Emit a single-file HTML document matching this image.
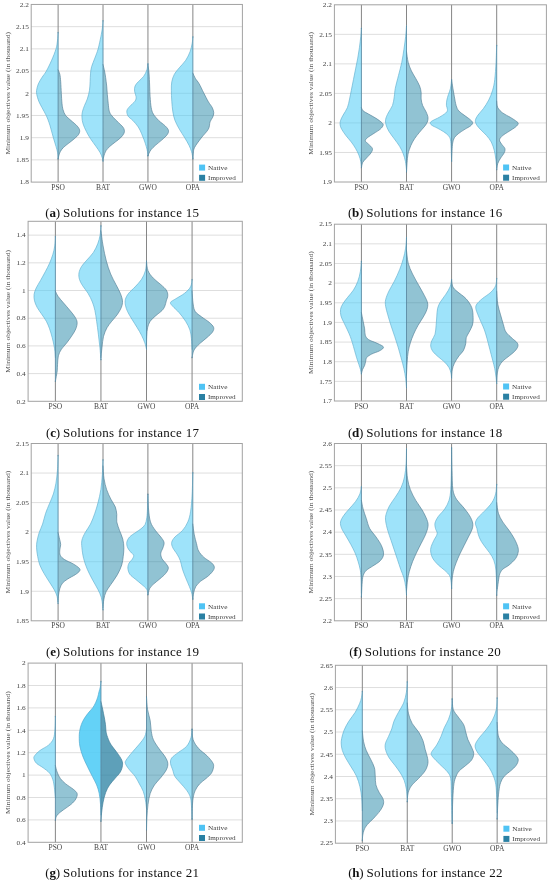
<!DOCTYPE html>
<html lang="en"><head><meta charset="utf-8"><title>Violin plots</title>
<style>
html,body{margin:0;padding:0;background:#fff;}
body{width:550px;height:883px;overflow:hidden;}
svg text{font-family:"Liberation Serif", "DejaVu Serif", serif;}
</style></head><body>
<svg width="550" height="883" viewBox="0 0 550 883" style="display:block">
<rect width="550" height="883" fill="#fff"/>
<g id="panel-a">
<line x1="31.20" x2="242.40" y1="26.66" y2="26.66" stroke="#dedede" stroke-width="1"/>
<line x1="31.20" x2="242.40" y1="48.86" y2="48.86" stroke="#dedede" stroke-width="1"/>
<line x1="31.20" x2="242.40" y1="71.07" y2="71.07" stroke="#dedede" stroke-width="1"/>
<line x1="31.20" x2="242.40" y1="93.28" y2="93.28" stroke="#dedede" stroke-width="1"/>
<line x1="31.20" x2="242.40" y1="115.48" y2="115.48" stroke="#dedede" stroke-width="1"/>
<line x1="31.20" x2="242.40" y1="137.69" y2="137.69" stroke="#dedede" stroke-width="1"/>
<line x1="31.20" x2="242.40" y1="159.89" y2="159.89" stroke="#dedede" stroke-width="1"/>
<path d="M58.11,4.45V33.28M58.11,158.23V182.10" stroke="#868686" stroke-width="1" fill="none"/>
<path d="M103.03,4.45V21.44M103.03,160.38V182.10" stroke="#868686" stroke-width="1" fill="none"/>
<path d="M147.95,4.45V64.48M147.95,155.00V182.10" stroke="#868686" stroke-width="1" fill="none"/>
<path d="M192.87,4.45V37.58M192.87,158.23V182.10" stroke="#868686" stroke-width="1" fill="none"/>
<path d="M58.11,32.28C58.00,33.71 57.82,38.09 57.46,40.88C57.10,43.68 56.92,45.83 55.96,49.06C54.99,52.29 53.27,56.56 51.65,60.25C50.04,63.94 47.89,68.35 46.27,71.22C44.66,74.09 43.30,75.35 41.97,77.46C40.64,79.58 39.21,81.77 38.31,83.92C37.41,86.07 36.84,88.58 36.59,90.37C36.34,92.17 36.45,92.88 36.80,94.68C37.16,96.47 37.88,98.98 38.74,101.13C39.60,103.28 40.71,105.18 41.97,107.59C43.22,109.99 45.09,113.04 46.27,115.55C47.46,118.06 48.28,120.39 49.07,122.65C49.86,124.91 50.29,126.59 51.01,129.11C51.72,131.62 52.55,134.84 53.37,137.71C54.20,140.58 55.24,143.81 55.96,146.32C56.67,148.83 57.32,150.80 57.68,152.77C58.04,154.75 58.04,157.26 58.11,158.15" fill="rgba(79,204,246,0.55)" stroke="#62aecd" stroke-width="0.65" stroke-linejoin="round" stroke-linecap="round"/>
<path d="M58.11,69.93C58.39,70.65 59.40,72.26 59.83,74.24C60.26,76.21 60.44,78.57 60.69,81.77C60.94,84.96 61.12,89.80 61.33,93.39C61.55,96.97 61.69,100.56 61.98,103.28C62.27,106.01 62.45,107.70 63.06,109.74C63.67,111.78 64.31,113.76 65.64,115.55C66.96,117.34 69.12,118.78 71.02,120.50C72.92,122.22 75.61,124.26 77.04,125.88C78.48,127.49 79.37,128.75 79.62,130.18C79.88,131.62 79.45,133.05 78.55,134.48C77.65,135.92 75.86,137.35 74.25,138.79C72.63,140.22 70.66,141.66 68.87,143.09C67.07,144.53 64.92,145.96 63.49,147.40C62.05,148.83 61.05,150.26 60.26,151.70C59.47,153.13 59.11,154.75 58.75,156.00C58.39,157.26 58.21,158.69 58.11,159.23" fill="rgba(44,140,170,0.52)" stroke="#527f96" stroke-width="0.65" stroke-linejoin="round" stroke-linecap="round"/>
<line x1="58.11" x2="58.11" y1="32.28" y2="159.23" stroke="#5a8aa3" stroke-width="0.9"/>
<path d="M103.03,20.44C102.92,21.70 102.74,25.28 102.38,27.97C102.02,30.66 101.59,33.07 100.88,36.58C100.16,40.09 99.08,45.47 98.08,49.06C97.08,52.65 95.93,55.16 94.85,58.10C93.78,61.04 92.34,64.19 91.62,66.70C90.91,69.21 90.80,70.65 90.55,73.16C90.30,75.67 90.30,78.90 90.12,81.77C89.94,84.64 89.94,87.50 89.47,90.37C89.01,93.24 88.15,96.47 87.32,98.98C86.50,101.49 85.35,103.28 84.52,105.44C83.70,107.59 82.80,109.92 82.37,111.89C81.94,113.86 81.83,115.30 81.94,117.27C82.05,119.24 82.30,121.39 83.02,123.73C83.74,126.06 84.99,128.75 86.25,131.26C87.50,133.77 88.94,136.28 90.55,138.79C92.16,141.30 94.31,143.99 95.93,146.32C97.54,148.65 99.16,150.80 100.23,152.77C101.31,154.75 101.92,156.72 102.38,158.15C102.85,159.59 102.92,160.84 103.03,161.38" fill="rgba(79,204,246,0.55)" stroke="#62aecd" stroke-width="0.65" stroke-linejoin="round" stroke-linecap="round"/>
<path d="M103.03,64.55C103.28,65.63 104.10,68.86 104.54,71.01C104.97,73.16 105.25,74.95 105.61,77.46C105.97,79.97 106.40,83.20 106.69,86.07C106.97,88.94 107.08,91.81 107.33,94.68C107.58,97.55 107.83,100.42 108.19,103.28C108.55,106.15 108.66,109.56 109.48,111.89C110.31,114.22 111.64,115.48 113.14,117.27C114.65,119.06 116.91,121.04 118.52,122.65C120.14,124.26 121.86,125.70 122.83,126.95C123.79,128.21 124.15,129.11 124.33,130.18C124.51,131.26 124.51,132.15 123.90,133.41C123.29,134.66 122.11,136.28 120.67,137.71C119.24,139.15 117.09,140.58 115.29,142.02C113.50,143.45 111.46,144.88 109.91,146.32C108.37,147.75 107.05,149.01 106.04,150.62C105.04,152.24 104.39,154.39 103.89,156.00C103.39,157.62 103.17,159.59 103.03,160.31" fill="rgba(44,140,170,0.52)" stroke="#527f96" stroke-width="0.65" stroke-linejoin="round" stroke-linecap="round"/>
<line x1="103.03" x2="103.03" y1="20.44" y2="161.38" stroke="#5a8aa3" stroke-width="0.9"/>
<path d="M147.95,63.48C147.77,64.55 147.59,67.78 146.88,69.93C146.16,72.08 145.08,74.41 143.65,76.39C142.21,78.36 139.70,80.15 138.27,81.77C136.83,83.38 135.65,84.46 135.04,86.07C134.43,87.68 134.43,89.66 134.61,91.45C134.79,93.24 136.04,95.22 136.12,96.83C136.19,98.44 136.12,99.52 135.04,101.13C133.96,102.75 131.02,104.90 129.66,106.51C128.30,108.13 127.12,109.20 126.86,110.82C126.61,112.43 127.15,114.58 128.16,116.19C129.16,117.81 131.20,118.71 132.89,120.50C134.57,122.29 136.83,124.80 138.27,126.95C139.70,129.11 140.53,131.26 141.50,133.41C142.46,135.56 143.29,137.71 144.08,139.86C144.87,142.02 145.66,144.35 146.23,146.32C146.80,148.29 147.23,150.08 147.52,151.70C147.81,153.31 147.88,155.29 147.95,156.00" fill="rgba(79,204,246,0.55)" stroke="#62aecd" stroke-width="0.65" stroke-linejoin="round" stroke-linecap="round"/>
<path d="M147.95,64.55C148.13,65.99 148.74,69.57 149.03,73.16C149.31,76.75 149.49,82.13 149.67,86.07C149.85,90.02 149.85,93.24 150.10,96.83C150.35,100.42 150.64,104.72 151.18,107.59C151.72,110.46 152.08,111.89 153.33,114.04C154.59,116.19 156.74,118.53 158.71,120.50C160.68,122.47 163.55,124.26 165.17,125.88C166.78,127.49 168.03,128.75 168.39,130.18C168.75,131.62 168.39,132.87 167.32,134.48C166.24,136.10 163.91,138.07 161.94,139.86C159.97,141.66 157.28,143.63 155.48,145.24C153.69,146.86 152.25,148.22 151.18,149.55C150.10,150.87 149.57,152.13 149.03,153.20C148.49,154.28 148.13,155.54 147.95,156.00" fill="rgba(44,140,170,0.52)" stroke="#527f96" stroke-width="0.65" stroke-linejoin="round" stroke-linecap="round"/>
<line x1="147.95" x2="147.95" y1="63.48" y2="156.00" stroke="#5a8aa3" stroke-width="0.9"/>
<path d="M192.87,36.58C192.77,37.66 192.69,40.52 192.23,43.04C191.76,45.55 191.15,48.77 190.08,51.64C189.00,54.51 187.57,57.56 185.77,60.25C183.98,62.94 181.22,65.45 179.32,67.78C177.42,70.11 175.62,71.90 174.37,74.24C173.11,76.57 172.29,79.08 171.79,81.77C171.28,84.46 171.36,87.15 171.36,90.37C171.36,93.60 171.54,97.55 171.79,101.13C172.04,104.72 172.32,108.66 172.86,111.89C173.40,115.12 173.94,117.63 175.01,120.50C176.09,123.37 177.70,126.24 179.32,129.11C180.93,131.97 183.08,135.02 184.70,137.71C186.31,140.40 187.85,142.91 189.00,145.24C190.15,147.57 190.94,149.55 191.58,151.70C192.23,153.85 192.66,157.08 192.87,158.15" fill="rgba(79,204,246,0.55)" stroke="#62aecd" stroke-width="0.65" stroke-linejoin="round" stroke-linecap="round"/>
<path d="M192.87,73.16C193.30,74.06 194.42,76.78 195.46,78.54C196.50,80.30 197.75,81.34 199.11,83.70C200.48,86.07 202.09,89.73 203.63,92.74C205.17,95.75 206.93,99.30 208.37,101.78C209.80,104.25 211.34,105.76 212.24,107.59C213.14,109.42 213.67,111.14 213.75,112.75C213.82,114.37 213.28,115.76 212.67,117.27C212.06,118.78 210.80,119.82 210.09,121.79C209.37,123.76 209.87,126.38 208.37,129.11C206.86,131.83 203.35,135.09 201.05,138.14C198.76,141.19 195.89,144.88 194.60,147.40C193.30,149.91 193.59,151.23 193.30,153.20C193.02,155.18 192.95,158.23 192.87,159.23" fill="rgba(44,140,170,0.52)" stroke="#527f96" stroke-width="0.65" stroke-linejoin="round" stroke-linecap="round"/>
<line x1="192.87" x2="192.87" y1="36.58" y2="159.23" stroke="#5a8aa3" stroke-width="0.9"/>
<rect x="31.20" y="4.45" width="211.20" height="177.65" fill="none" stroke="#a2a2a2" stroke-width="1"/>
<text transform="translate(28.80,6.70) scale(1.08,1)" text-anchor="end" font-size="6.8" fill="#444">2.2</text>
<text transform="translate(28.80,28.91) scale(1.08,1)" text-anchor="end" font-size="6.8" fill="#444">2.15</text>
<text transform="translate(28.80,51.11) scale(1.08,1)" text-anchor="end" font-size="6.8" fill="#444">2.1</text>
<text transform="translate(28.80,73.32) scale(1.08,1)" text-anchor="end" font-size="6.8" fill="#444">2.05</text>
<text transform="translate(28.80,95.53) scale(1.08,1)" text-anchor="end" font-size="6.8" fill="#444">2</text>
<text transform="translate(28.80,117.73) scale(1.08,1)" text-anchor="end" font-size="6.8" fill="#444">1.95</text>
<text transform="translate(28.80,139.94) scale(1.08,1)" text-anchor="end" font-size="6.8" fill="#444">1.9</text>
<text transform="translate(28.80,162.14) scale(1.08,1)" text-anchor="end" font-size="6.8" fill="#444">1.85</text>
<text transform="translate(28.80,184.35) scale(1.08,1)" text-anchor="end" font-size="6.8" fill="#444">1.8</text>
<text transform="translate(58.11,189.70) scale(1.04,1)" text-anchor="middle" font-size="7.2" fill="#444">PSO</text>
<text transform="translate(103.03,189.70) scale(1.04,1)" text-anchor="middle" font-size="7.2" fill="#444">BAT</text>
<text transform="translate(147.95,189.70) scale(1.04,1)" text-anchor="middle" font-size="7.2" fill="#444">GWO</text>
<text transform="translate(192.87,189.70) scale(1.04,1)" text-anchor="middle" font-size="7.2" fill="#444">OPA</text>
<text transform="translate(9.70,93.27) rotate(-90) scale(1.08,1)" text-anchor="middle" font-size="7" fill="#555">Minimum objectives value (in thousand)</text>
<rect x="199.10" y="164.60" width="6" height="6" fill="#4fc3f4"/>
<rect x="199.10" y="174.80" width="6" height="6" fill="#2a80a3"/>
<text transform="translate(208.00,169.80) scale(1.08,1)" font-size="6.8" fill="#444">Native</text>
<text transform="translate(208.00,180.00) scale(1.05,1)" font-size="6.8" fill="#444">Improved</text>
<text x="122.30" y="217.20" text-anchor="middle" font-size="13" letter-spacing="0.265" fill="#111"><tspan letter-spacing="-0.2">(<tspan font-weight="bold">a</tspan>) </tspan>Solutions for instance 15</text>
</g>
<g id="panel-b">
<line x1="334.40" x2="546.40" y1="34.33" y2="34.33" stroke="#dedede" stroke-width="1"/>
<line x1="334.40" x2="546.40" y1="63.87" y2="63.87" stroke="#dedede" stroke-width="1"/>
<line x1="334.40" x2="546.40" y1="93.40" y2="93.40" stroke="#dedede" stroke-width="1"/>
<line x1="334.40" x2="546.40" y1="122.93" y2="122.93" stroke="#dedede" stroke-width="1"/>
<line x1="334.40" x2="546.40" y1="152.47" y2="152.47" stroke="#dedede" stroke-width="1"/>
<path d="M361.41,4.80V28.97M361.41,166.84V182.00" stroke="#868686" stroke-width="1" fill="none"/>
<path d="M406.50,4.80V26.82M406.50,171.14V182.00" stroke="#868686" stroke-width="1" fill="none"/>
<path d="M451.59,4.80V80.61M451.59,160.38V182.00" stroke="#868686" stroke-width="1" fill="none"/>
<path d="M496.69,4.80V46.19M496.69,168.99V182.00" stroke="#868686" stroke-width="1" fill="none"/>
<path d="M361.41,27.97C361.30,29.41 361.09,33.35 360.76,36.58C360.44,39.81 359.97,43.75 359.47,47.34C358.97,50.92 358.40,54.51 357.75,58.10C357.11,61.68 356.32,65.27 355.60,68.86C354.88,72.44 354.16,76.03 353.45,79.61C352.73,83.20 351.94,87.15 351.30,90.37C350.65,93.60 350.22,96.11 349.57,98.98C348.93,101.85 348.50,104.90 347.42,107.59C346.35,110.28 344.27,112.97 343.12,115.12C341.97,117.27 341.04,118.88 340.54,120.50C340.03,122.11 339.93,123.37 340.11,124.80C340.29,126.24 340.64,127.31 341.61,129.11C342.58,130.90 344.30,133.41 345.92,135.56C347.53,137.71 349.68,139.86 351.30,142.02C352.91,144.17 354.34,146.32 355.60,148.47C356.85,150.62 357.97,152.77 358.83,154.93C359.69,157.08 360.33,159.41 360.76,161.38C361.19,163.35 361.30,165.86 361.41,166.76" fill="rgba(79,204,246,0.55)" stroke="#62aecd" stroke-width="0.65" stroke-linejoin="round" stroke-linecap="round"/>
<path d="M361.41,107.59C361.70,108.13 361.95,109.74 363.13,110.82C364.31,111.89 366.36,112.79 368.51,114.04C370.66,115.30 373.82,116.91 376.04,118.35C378.26,119.78 380.67,121.50 381.85,122.65C383.03,123.80 383.39,124.16 383.14,125.23C382.89,126.31 381.89,127.74 380.34,129.11C378.80,130.47 376.04,131.97 373.89,133.41C371.74,134.84 368.87,136.46 367.43,137.71C366.00,138.97 365.10,139.86 365.28,140.94C365.46,142.02 367.33,142.91 368.51,144.17C369.69,145.42 371.95,147.04 372.38,148.47C372.81,149.91 372.10,151.16 371.09,152.77C370.09,154.39 367.76,156.54 366.36,158.15C364.96,159.77 363.52,160.84 362.70,162.46C361.88,164.07 361.62,166.94 361.41,167.84" fill="rgba(44,140,170,0.52)" stroke="#527f96" stroke-width="0.65" stroke-linejoin="round" stroke-linecap="round"/>
<line x1="361.41" x2="361.41" y1="27.97" y2="167.84" stroke="#5a8aa3" stroke-width="0.9"/>
<path d="M406.50,25.82C406.36,27.61 406.07,32.63 405.64,36.58C405.21,40.52 404.56,45.19 403.92,49.49C403.27,53.79 402.66,58.10 401.77,62.40C400.87,66.70 399.62,71.01 398.54,75.31C397.46,79.61 396.03,84.64 395.31,88.22C394.59,91.81 394.70,93.96 394.24,96.83C393.77,99.70 393.52,102.75 392.51,105.44C391.51,108.13 389.36,110.64 388.21,112.97C387.06,115.30 385.99,117.45 385.63,119.42C385.27,121.39 385.52,122.83 386.06,124.80C386.60,126.77 387.49,128.93 388.86,131.26C390.22,133.59 392.44,136.28 394.24,138.79C396.03,141.30 398.11,143.81 399.62,146.32C401.12,148.83 402.31,151.34 403.27,153.85C404.24,156.36 404.89,158.69 405.43,161.38C405.96,164.07 406.32,168.55 406.50,169.99" fill="rgba(79,204,246,0.55)" stroke="#62aecd" stroke-width="0.65" stroke-linejoin="round" stroke-linecap="round"/>
<path d="M406.50,51.64C406.79,53.44 407.40,59.17 408.22,62.40C409.05,65.63 410.20,68.32 411.45,71.01C412.71,73.70 414.39,76.03 415.75,78.54C417.12,81.05 418.73,83.74 419.63,86.07C420.52,88.40 420.88,90.37 421.13,92.53C421.38,94.68 420.88,96.83 421.13,98.98C421.38,101.13 421.81,103.28 422.64,105.44C423.46,107.59 425.19,109.81 426.08,111.89C426.98,113.97 427.95,115.94 428.02,117.92C428.09,119.89 427.48,121.86 426.51,123.73C425.54,125.59 423.82,127.13 422.21,129.11C420.60,131.08 418.44,133.41 416.83,135.56C415.22,137.71 413.78,139.68 412.53,142.02C411.27,144.35 410.12,147.04 409.30,149.55C408.47,152.06 408.04,153.31 407.58,157.08C407.11,160.84 406.68,169.63 406.50,172.14" fill="rgba(44,140,170,0.52)" stroke="#527f96" stroke-width="0.65" stroke-linejoin="round" stroke-linecap="round"/>
<line x1="406.50" x2="406.50" y1="25.82" y2="172.14" stroke="#5a8aa3" stroke-width="0.9"/>
<path d="M451.59,79.61C451.41,81.05 451.06,85.71 450.52,88.22C449.98,90.73 448.98,92.70 448.37,94.68C447.76,96.65 447.18,98.26 446.86,100.06C446.54,101.85 446.32,103.82 446.43,105.44C446.54,107.05 447.61,108.48 447.51,109.74C447.40,110.99 447.15,111.71 445.78,112.97C444.42,114.22 441.48,116.02 439.33,117.27C437.18,118.53 434.38,119.60 432.87,120.50C431.37,121.39 430.47,121.86 430.29,122.65C430.11,123.44 430.65,124.34 431.80,125.23C432.95,126.13 435.20,126.95 437.18,128.03C439.15,129.11 441.77,130.43 443.63,131.69C445.50,132.94 447.22,134.20 448.37,135.56C449.51,136.92 450.05,137.71 450.52,139.86C450.98,142.02 450.98,144.88 451.16,148.47C451.34,152.06 451.52,159.23 451.59,161.38" fill="rgba(79,204,246,0.55)" stroke="#62aecd" stroke-width="0.65" stroke-linejoin="round" stroke-linecap="round"/>
<path d="M451.59,79.61C451.81,81.05 452.42,85.35 452.88,88.22C453.35,91.09 453.85,93.96 454.39,96.83C454.93,99.70 455.40,103.10 456.11,105.44C456.83,107.77 457.37,109.20 458.69,110.82C460.02,112.43 462.21,113.68 464.07,115.12C465.94,116.55 468.45,118.17 469.88,119.42C471.32,120.68 472.57,121.57 472.68,122.65C472.79,123.73 471.78,124.80 470.53,125.88C469.27,126.95 467.12,127.85 465.15,129.11C463.18,130.36 460.49,131.97 458.69,133.41C456.90,134.84 455.40,136.10 454.39,137.71C453.39,139.33 453.06,140.94 452.67,143.09C452.27,145.24 452.20,147.57 452.02,150.62C451.84,153.67 451.67,159.59 451.59,161.38" fill="rgba(44,140,170,0.52)" stroke="#527f96" stroke-width="0.65" stroke-linejoin="round" stroke-linecap="round"/>
<line x1="451.59" x2="451.59" y1="79.61" y2="161.38" stroke="#5a8aa3" stroke-width="0.9"/>
<path d="M496.69,45.19C496.58,48.06 496.36,56.66 496.04,62.40C495.72,68.14 495.32,74.95 494.75,79.61C494.18,84.28 493.60,86.97 492.60,90.37C491.59,93.78 490.27,97.01 488.72,100.06C487.18,103.10 485.14,106.15 483.35,108.66C481.55,111.17 479.29,113.15 477.97,115.12C476.64,117.09 475.56,118.81 475.38,120.50C475.20,122.18 475.92,123.62 476.89,125.23C477.86,126.85 479.58,128.46 481.19,130.18C482.81,131.90 484.89,133.59 486.57,135.56C488.26,137.53 490.02,139.51 491.31,142.02C492.60,144.53 493.57,147.75 494.32,150.62C495.07,153.49 495.43,156.36 495.83,159.23C496.22,162.10 496.54,166.40 496.69,167.84" fill="rgba(79,204,246,0.55)" stroke="#62aecd" stroke-width="0.65" stroke-linejoin="round" stroke-linecap="round"/>
<path d="M496.69,101.13C496.87,102.21 496.76,105.62 497.76,107.59C498.77,109.56 500.63,111.35 502.71,112.97C504.79,114.58 507.91,115.84 510.24,117.27C512.57,118.71 515.37,120.50 516.70,121.57C518.02,122.65 518.38,122.83 518.20,123.73C518.02,124.62 517.13,125.70 515.62,126.95C514.12,128.21 511.32,129.82 509.17,131.26C507.01,132.69 504.32,134.13 502.71,135.56C501.10,137.00 499.66,138.43 499.48,139.86C499.30,141.30 500.74,142.73 501.64,144.17C502.53,145.60 504.43,147.04 504.86,148.47C505.29,149.91 504.93,151.16 504.22,152.77C503.50,154.39 501.64,156.36 500.56,158.15C499.48,159.95 498.41,161.56 497.76,163.53C497.12,165.51 496.87,168.91 496.69,169.99" fill="rgba(44,140,170,0.52)" stroke="#527f96" stroke-width="0.65" stroke-linejoin="round" stroke-linecap="round"/>
<line x1="496.69" x2="496.69" y1="45.19" y2="169.99" stroke="#5a8aa3" stroke-width="0.9"/>
<rect x="334.40" y="4.80" width="212.00" height="177.20" fill="none" stroke="#a2a2a2" stroke-width="1"/>
<text transform="translate(332.00,7.05) scale(1.08,1)" text-anchor="end" font-size="6.8" fill="#444">2.2</text>
<text transform="translate(332.00,36.58) scale(1.08,1)" text-anchor="end" font-size="6.8" fill="#444">2.15</text>
<text transform="translate(332.00,66.12) scale(1.08,1)" text-anchor="end" font-size="6.8" fill="#444">2.1</text>
<text transform="translate(332.00,95.65) scale(1.08,1)" text-anchor="end" font-size="6.8" fill="#444">2.05</text>
<text transform="translate(332.00,125.18) scale(1.08,1)" text-anchor="end" font-size="6.8" fill="#444">2</text>
<text transform="translate(332.00,154.72) scale(1.08,1)" text-anchor="end" font-size="6.8" fill="#444">1.95</text>
<text transform="translate(332.00,184.25) scale(1.08,1)" text-anchor="end" font-size="6.8" fill="#444">1.9</text>
<text transform="translate(361.41,189.60) scale(1.04,1)" text-anchor="middle" font-size="7.2" fill="#444">PSO</text>
<text transform="translate(406.50,189.60) scale(1.04,1)" text-anchor="middle" font-size="7.2" fill="#444">BAT</text>
<text transform="translate(451.59,189.60) scale(1.04,1)" text-anchor="middle" font-size="7.2" fill="#444">GWO</text>
<text transform="translate(496.69,189.60) scale(1.04,1)" text-anchor="middle" font-size="7.2" fill="#444">OPA</text>
<text transform="translate(313.10,93.40) rotate(-90) scale(1.08,1)" text-anchor="middle" font-size="7" fill="#555">Minimum objectives value (in thousand)</text>
<rect x="503.10" y="164.50" width="6" height="6" fill="#4fc3f4"/>
<rect x="503.10" y="174.70" width="6" height="6" fill="#2a80a3"/>
<text transform="translate(512.00,169.70) scale(1.08,1)" font-size="6.8" fill="#444">Native</text>
<text transform="translate(512.00,179.90) scale(1.05,1)" font-size="6.8" fill="#444">Improved</text>
<text x="425.20" y="217.20" text-anchor="middle" font-size="13" letter-spacing="0.265" fill="#111"><tspan letter-spacing="-0.2">(<tspan font-weight="bold">b</tspan>) </tspan>Solutions for instance 16</text>
</g>
<g id="panel-c">
<line x1="28.10" x2="242.30" y1="235.15" y2="235.15" stroke="#dedede" stroke-width="1"/>
<line x1="28.10" x2="242.30" y1="262.84" y2="262.84" stroke="#dedede" stroke-width="1"/>
<line x1="28.10" x2="242.30" y1="290.53" y2="290.53" stroke="#dedede" stroke-width="1"/>
<line x1="28.10" x2="242.30" y1="318.22" y2="318.22" stroke="#dedede" stroke-width="1"/>
<line x1="28.10" x2="242.30" y1="345.92" y2="345.92" stroke="#dedede" stroke-width="1"/>
<line x1="28.10" x2="242.30" y1="373.61" y2="373.61" stroke="#dedede" stroke-width="1"/>
<path d="M55.39,221.30V237.29M55.39,380.53V401.30" stroke="#868686" stroke-width="1" fill="none"/>
<path d="M100.95,221.30V226.53M100.95,359.02V401.30" stroke="#868686" stroke-width="1" fill="none"/>
<path d="M146.51,221.30V262.04M146.51,348.26V401.30" stroke="#868686" stroke-width="1" fill="none"/>
<path d="M192.07,221.30V280.33M192.07,356.86V401.30" stroke="#868686" stroke-width="1" fill="none"/>
<path d="M55.39,236.29C55.28,237.90 55.17,242.92 54.74,245.97C54.31,249.02 53.67,251.71 52.81,254.58C51.95,257.45 50.83,260.32 49.58,263.19C48.32,266.06 46.78,268.92 45.28,271.79C43.77,274.66 42.05,277.71 40.54,280.40C39.04,283.09 37.31,285.60 36.24,287.93C35.16,290.26 34.37,292.24 34.09,294.39C33.80,296.54 34.01,298.69 34.52,300.84C35.02,302.99 35.95,305.15 37.10,307.30C38.25,309.45 39.86,311.42 41.40,313.75C42.94,316.08 44.99,318.77 46.35,321.28C47.71,323.79 48.61,326.13 49.58,328.82C50.55,331.51 51.44,334.73 52.16,337.42C52.88,340.11 53.42,342.62 53.88,344.95C54.35,347.28 54.71,349.33 54.96,351.41C55.21,353.49 55.32,356.43 55.39,357.43" fill="rgba(79,204,246,0.55)" stroke="#62aecd" stroke-width="0.65" stroke-linejoin="round" stroke-linecap="round"/>
<path d="M55.39,291.16C55.86,292.06 56.82,294.57 58.19,296.54C59.55,298.51 61.59,300.66 63.57,302.99C65.54,305.33 68.12,308.19 70.02,310.53C71.92,312.86 73.79,315.01 74.97,316.98C76.15,318.95 76.98,320.39 77.12,322.36C77.27,324.33 76.66,326.66 75.83,328.82C75.01,330.97 73.68,332.94 72.17,335.27C70.67,337.60 68.59,340.47 66.79,342.80C65.00,345.13 62.81,347.11 61.41,349.26C60.02,351.41 59.05,353.20 58.40,355.71C57.76,358.22 57.74,361.81 57.54,364.32C57.34,366.83 57.43,368.73 57.22,370.77C57.00,372.82 56.55,374.79 56.25,376.58C55.94,378.38 55.53,380.71 55.39,381.53" fill="rgba(44,140,170,0.52)" stroke="#527f96" stroke-width="0.65" stroke-linejoin="round" stroke-linecap="round"/>
<line x1="55.39" x2="55.39" y1="236.29" y2="381.53" stroke="#5a8aa3" stroke-width="0.9"/>
<path d="M100.95,225.53C100.81,227.14 100.63,232.17 100.09,235.21C99.55,238.26 98.83,240.95 97.72,243.82C96.61,246.69 95.21,249.74 93.42,252.43C91.63,255.12 88.94,257.63 86.96,259.96C84.99,262.29 82.91,264.26 81.58,266.41C80.26,268.57 79.36,270.72 79.00,272.87C78.64,275.02 78.82,277.17 79.43,279.33C80.04,281.48 81.22,283.45 82.66,285.78C84.09,288.11 86.43,290.62 88.04,293.31C89.65,296.00 91.19,299.05 92.34,301.92C93.49,304.79 94.21,307.30 94.92,310.53C95.64,313.75 96.07,317.34 96.65,321.28C97.22,325.23 97.83,329.89 98.37,334.19C98.91,338.50 99.44,342.80 99.87,347.11C100.30,351.41 100.77,357.86 100.95,360.02" fill="rgba(79,204,246,0.55)" stroke="#62aecd" stroke-width="0.65" stroke-linejoin="round" stroke-linecap="round"/>
<path d="M100.95,230.91C101.31,233.42 102.20,240.95 103.10,245.97C104.00,250.99 105.07,256.37 106.33,261.04C107.58,265.70 109.02,270.00 110.63,273.95C112.25,277.89 114.40,281.48 116.01,284.70C117.63,287.93 119.24,290.62 120.32,293.31C121.39,296.00 122.29,298.51 122.47,300.84C122.65,303.17 122.29,304.97 121.39,307.30C120.49,309.63 118.70,312.50 117.09,314.83C115.47,317.16 113.39,319.13 111.71,321.28C110.02,323.44 108.34,325.23 106.97,327.74C105.61,330.25 104.36,333.12 103.53,336.35C102.71,339.57 102.46,343.52 102.03,347.11C101.59,350.69 101.13,356.07 100.95,357.86" fill="rgba(44,140,170,0.52)" stroke="#527f96" stroke-width="0.65" stroke-linejoin="round" stroke-linecap="round"/>
<line x1="100.95" x2="100.95" y1="225.53" y2="360.02" stroke="#5a8aa3" stroke-width="0.9"/>
<path d="M146.51,261.04C146.33,262.65 146.26,267.67 145.43,270.72C144.61,273.77 143.28,276.64 141.56,279.33C139.84,282.01 137.26,284.53 135.11,286.86C132.95,289.19 130.26,291.23 128.65,293.31C127.04,295.39 125.96,297.36 125.42,299.34C124.88,301.31 125.06,303.10 125.42,305.15C125.78,307.19 126.50,309.27 127.57,311.60C128.65,313.93 130.26,316.44 131.88,319.13C133.49,321.82 135.64,325.05 137.26,327.74C138.87,330.43 140.31,332.76 141.56,335.27C142.82,337.78 143.96,340.47 144.79,342.80C145.61,345.13 146.22,348.18 146.51,349.26" fill="rgba(79,204,246,0.55)" stroke="#62aecd" stroke-width="0.65" stroke-linejoin="round" stroke-linecap="round"/>
<path d="M146.51,261.04C146.76,262.65 146.87,267.85 148.02,270.72C149.16,273.59 151.24,275.92 153.40,278.25C155.55,280.58 158.77,282.73 160.93,284.70C163.08,286.68 165.16,288.29 166.31,290.08C167.45,291.88 167.81,293.67 167.81,295.46C167.81,297.26 166.81,299.05 166.31,300.84C165.80,302.64 165.52,304.61 164.80,306.22C164.08,307.84 163.54,308.91 162.00,310.53C160.46,312.14 157.52,314.11 155.55,315.90C153.57,317.70 151.49,319.31 150.17,321.28C148.84,323.26 148.16,325.23 147.59,327.74C147.01,330.25 146.90,333.12 146.72,336.35C146.55,339.57 146.55,345.31 146.51,347.11" fill="rgba(44,140,170,0.52)" stroke="#527f96" stroke-width="0.65" stroke-linejoin="round" stroke-linecap="round"/>
<line x1="146.51" x2="146.51" y1="261.04" y2="349.26" stroke="#5a8aa3" stroke-width="0.9"/>
<path d="M192.07,279.33C191.82,280.58 191.82,284.53 190.56,286.86C189.31,289.19 186.98,291.34 184.54,293.31C182.10,295.28 178.26,297.18 175.93,298.69C173.60,300.20 171.09,301.09 170.55,302.35C170.01,303.60 171.27,304.50 172.70,306.22C174.14,307.94 177.01,310.17 179.16,312.68C181.31,315.19 183.82,318.42 185.61,321.28C187.41,324.15 188.95,327.02 189.92,329.89C190.89,332.76 191.07,335.27 191.42,338.50C191.78,341.73 191.96,347.46 192.07,349.26" fill="rgba(79,204,246,0.55)" stroke="#62aecd" stroke-width="0.65" stroke-linejoin="round" stroke-linecap="round"/>
<path d="M192.07,291.16C192.25,293.31 192.61,300.66 193.15,304.07C193.68,307.48 193.86,309.45 195.30,311.60C196.73,313.75 199.42,315.19 201.75,316.98C204.08,318.77 207.31,320.64 209.28,322.36C211.26,324.08 213.05,325.70 213.59,327.31C214.13,328.92 213.59,330.36 212.51,332.04C211.44,333.73 209.10,335.63 207.13,337.42C205.16,339.22 202.65,341.01 200.68,342.80C198.70,344.59 196.55,346.57 195.30,348.18C194.04,349.80 193.68,350.87 193.15,352.48C192.61,354.10 192.25,356.97 192.07,357.86" fill="rgba(44,140,170,0.52)" stroke="#527f96" stroke-width="0.65" stroke-linejoin="round" stroke-linecap="round"/>
<line x1="192.07" x2="192.07" y1="279.33" y2="357.86" stroke="#5a8aa3" stroke-width="0.9"/>
<rect x="28.10" y="221.30" width="214.20" height="180.00" fill="none" stroke="#a2a2a2" stroke-width="1"/>
<text transform="translate(25.70,237.40) scale(1.08,1)" text-anchor="end" font-size="6.8" fill="#444">1.4</text>
<text transform="translate(25.70,265.09) scale(1.08,1)" text-anchor="end" font-size="6.8" fill="#444">1.2</text>
<text transform="translate(25.70,292.78) scale(1.08,1)" text-anchor="end" font-size="6.8" fill="#444">1</text>
<text transform="translate(25.70,320.47) scale(1.08,1)" text-anchor="end" font-size="6.8" fill="#444">0.8</text>
<text transform="translate(25.70,348.17) scale(1.08,1)" text-anchor="end" font-size="6.8" fill="#444">0.6</text>
<text transform="translate(25.70,375.86) scale(1.08,1)" text-anchor="end" font-size="6.8" fill="#444">0.4</text>
<text transform="translate(25.70,403.55) scale(1.08,1)" text-anchor="end" font-size="6.8" fill="#444">0.2</text>
<text transform="translate(55.39,408.90) scale(1.04,1)" text-anchor="middle" font-size="7.2" fill="#444">PSO</text>
<text transform="translate(100.95,408.90) scale(1.04,1)" text-anchor="middle" font-size="7.2" fill="#444">BAT</text>
<text transform="translate(146.51,408.90) scale(1.04,1)" text-anchor="middle" font-size="7.2" fill="#444">GWO</text>
<text transform="translate(192.07,408.90) scale(1.04,1)" text-anchor="middle" font-size="7.2" fill="#444">OPA</text>
<text transform="translate(9.70,311.30) rotate(-90) scale(1.08,1)" text-anchor="middle" font-size="7" fill="#555">Minimum objectives value (in thousand)</text>
<rect x="199.00" y="383.80" width="6" height="6" fill="#4fc3f4"/>
<rect x="199.00" y="394.00" width="6" height="6" fill="#2a80a3"/>
<text transform="translate(207.90,389.00) scale(1.08,1)" font-size="6.8" fill="#444">Native</text>
<text transform="translate(207.90,399.20) scale(1.05,1)" font-size="6.8" fill="#444">Improved</text>
<text x="122.60" y="436.50" text-anchor="middle" font-size="13" letter-spacing="0.265" fill="#111"><tspan letter-spacing="-0.2">(<tspan font-weight="bold">c</tspan>) </tspan>Solutions for instance 17</text>
</g>
<g id="panel-d">
<line x1="334.40" x2="546.40" y1="243.84" y2="243.84" stroke="#dedede" stroke-width="1"/>
<line x1="334.40" x2="546.40" y1="263.49" y2="263.49" stroke="#dedede" stroke-width="1"/>
<line x1="334.40" x2="546.40" y1="283.13" y2="283.13" stroke="#dedede" stroke-width="1"/>
<line x1="334.40" x2="546.40" y1="302.78" y2="302.78" stroke="#dedede" stroke-width="1"/>
<line x1="334.40" x2="546.40" y1="322.42" y2="322.42" stroke="#dedede" stroke-width="1"/>
<line x1="334.40" x2="546.40" y1="342.07" y2="342.07" stroke="#dedede" stroke-width="1"/>
<line x1="334.40" x2="546.40" y1="361.71" y2="361.71" stroke="#dedede" stroke-width="1"/>
<line x1="334.40" x2="546.40" y1="381.36" y2="381.36" stroke="#dedede" stroke-width="1"/>
<path d="M361.41,224.20V262.04M361.41,373.00V401.00" stroke="#868686" stroke-width="1" fill="none"/>
<path d="M406.50,224.20V238.37M406.50,386.99V401.00" stroke="#868686" stroke-width="1" fill="none"/>
<path d="M451.59,224.20V280.33M451.59,377.31V401.00" stroke="#868686" stroke-width="1" fill="none"/>
<path d="M496.69,224.20V279.25M496.69,382.69V401.00" stroke="#868686" stroke-width="1" fill="none"/>
<path d="M361.41,261.04C361.23,262.83 360.94,268.39 360.33,271.79C359.72,275.20 358.90,278.43 357.75,281.48C356.60,284.53 355.17,287.39 353.45,290.08C351.73,292.77 349.22,295.28 347.42,297.61C345.63,299.95 343.84,302.10 342.69,304.07C341.54,306.04 340.82,307.48 340.54,309.45C340.25,311.42 340.43,313.75 340.97,315.90C341.51,318.06 342.69,320.03 343.76,322.36C344.84,324.69 346.35,327.56 347.42,329.89C348.50,332.22 349.39,334.19 350.22,336.35C351.04,338.50 351.65,340.47 352.37,342.80C353.09,345.13 353.81,347.82 354.52,350.33C355.24,352.84 355.96,355.53 356.67,357.86C357.39,360.20 358.18,362.35 358.83,364.32C359.47,366.29 360.12,368.08 360.55,369.70C360.98,371.31 361.27,373.29 361.41,374.00" fill="rgba(79,204,246,0.55)" stroke="#62aecd" stroke-width="0.65" stroke-linejoin="round" stroke-linecap="round"/>
<path d="M361.41,312.68C361.70,314.11 362.59,318.59 363.13,321.28C363.67,323.97 364.28,326.48 364.64,328.82C365.00,331.15 364.64,333.48 365.28,335.27C365.93,337.06 366.72,338.32 368.51,339.57C370.30,340.83 373.71,341.73 376.04,342.80C378.37,343.88 381.31,345.13 382.50,346.03C383.68,346.93 383.68,347.36 383.14,348.18C382.60,349.01 381.17,350.01 379.27,350.98C377.37,351.95 373.82,352.92 371.74,353.99C369.66,355.07 367.79,356.25 366.79,357.43C365.78,358.62 366.07,359.76 365.71,361.09C365.35,362.42 365.17,363.96 364.64,365.40C364.10,366.83 363.02,368.26 362.48,369.70C361.95,371.13 361.59,373.29 361.41,374.00" fill="rgba(44,140,170,0.52)" stroke="#527f96" stroke-width="0.65" stroke-linejoin="round" stroke-linecap="round"/>
<line x1="361.41" x2="361.41" y1="261.04" y2="374.00" stroke="#5a8aa3" stroke-width="0.9"/>
<path d="M406.50,237.37C406.36,239.16 406.18,244.54 405.64,248.12C405.10,251.71 404.28,255.30 403.27,258.88C402.27,262.47 401.12,265.88 399.62,269.64C398.11,273.41 396.03,277.89 394.24,281.48C392.44,285.06 390.29,288.11 388.86,291.16C387.42,294.21 386.17,297.26 385.63,299.77C385.09,302.28 385.27,303.71 385.63,306.22C385.99,308.73 386.88,311.60 387.78,314.83C388.68,318.06 389.86,322.00 391.01,325.59C392.16,329.17 393.48,332.76 394.67,336.35C395.85,339.93 397.03,343.52 398.11,347.11C399.19,350.69 400.15,354.28 401.12,357.86C402.09,361.45 403.17,365.22 403.92,368.62C404.67,372.03 405.21,375.08 405.64,378.31C406.07,381.53 406.36,386.37 406.50,387.99" fill="rgba(79,204,246,0.55)" stroke="#62aecd" stroke-width="0.65" stroke-linejoin="round" stroke-linecap="round"/>
<path d="M406.50,250.28C406.79,252.43 407.22,259.24 408.22,263.19C409.23,267.13 410.73,270.18 412.53,273.95C414.32,277.71 417.01,282.19 418.98,285.78C420.95,289.37 422.93,292.59 424.36,295.46C425.80,298.33 427.16,300.66 427.59,302.99C428.02,305.33 427.66,307.12 426.94,309.45C426.23,311.78 424.79,314.29 423.28,316.98C421.78,319.67 419.52,322.72 417.91,325.59C416.29,328.46 414.86,331.33 413.60,334.19C412.35,337.06 411.27,339.93 410.37,342.80C409.48,345.67 408.76,348.18 408.22,351.41C407.68,354.64 407.43,358.22 407.15,362.17C406.86,366.11 406.61,372.93 406.50,375.08" fill="rgba(44,140,170,0.52)" stroke="#527f96" stroke-width="0.65" stroke-linejoin="round" stroke-linecap="round"/>
<line x1="406.50" x2="406.50" y1="237.37" y2="387.99" stroke="#5a8aa3" stroke-width="0.9"/>
<path d="M451.59,279.33C451.34,280.58 451.06,284.35 450.09,286.86C449.12,289.37 447.40,291.88 445.78,294.39C444.17,296.90 441.77,299.59 440.40,301.92C439.04,304.25 438.22,305.86 437.61,308.37C437.00,310.88 437.00,314.11 436.75,316.98C436.50,319.85 436.39,322.72 436.10,325.59C435.81,328.46 435.74,331.68 435.03,334.19C434.31,336.71 432.51,338.68 431.80,340.65C431.08,342.62 430.54,344.24 430.72,346.03C430.90,347.82 431.62,349.62 432.87,351.41C434.13,353.20 436.28,355.00 438.25,356.79C440.23,358.58 442.91,360.37 444.71,362.17C446.50,363.96 447.97,365.75 449.01,367.55C450.05,369.34 450.52,371.13 450.95,372.93C451.38,374.72 451.49,377.41 451.59,378.31" fill="rgba(79,204,246,0.55)" stroke="#62aecd" stroke-width="0.65" stroke-linejoin="round" stroke-linecap="round"/>
<path d="M451.59,279.97C451.81,281.12 451.99,284.96 452.88,286.86C453.78,288.76 454.79,289.40 456.97,291.37C459.16,293.35 463.54,295.97 466.01,298.69C468.48,301.42 470.64,304.57 471.82,307.73C473.00,310.88 473.00,314.76 473.11,317.63C473.22,320.50 473.15,322.50 472.47,324.94C471.78,327.38 470.06,330.14 469.02,332.26C467.98,334.37 466.76,335.81 466.23,337.64C465.69,339.47 466.26,341.08 465.80,343.23C465.33,345.38 464.58,348.43 463.43,350.55C462.28,352.66 460.42,353.81 458.91,355.93C457.40,358.04 455.50,360.91 454.39,363.24C453.28,365.57 452.71,367.58 452.24,369.91C451.77,372.24 451.70,376.01 451.59,377.23" fill="rgba(44,140,170,0.52)" stroke="#527f96" stroke-width="0.65" stroke-linejoin="round" stroke-linecap="round"/>
<line x1="451.59" x2="451.59" y1="279.33" y2="378.31" stroke="#5a8aa3" stroke-width="0.9"/>
<path d="M496.69,278.25C496.51,279.50 496.58,283.45 495.61,285.78C494.64,288.11 493.10,290.08 490.88,292.24C488.65,294.39 484.60,296.72 482.27,298.69C479.94,300.66 477.97,302.46 476.89,304.07C475.81,305.68 475.63,306.58 475.81,308.37C475.99,310.17 477.07,312.50 477.97,314.83C478.86,317.16 480.12,319.85 481.19,322.36C482.27,324.87 483.45,327.20 484.42,329.89C485.39,332.58 486.11,335.27 487.00,338.50C487.90,341.73 488.87,345.67 489.80,349.26C490.73,352.84 491.77,356.79 492.60,360.02C493.42,363.24 494.18,365.75 494.75,368.62C495.32,371.49 495.72,374.72 496.04,377.23C496.36,379.74 496.58,382.61 496.69,383.69" fill="rgba(79,204,246,0.55)" stroke="#62aecd" stroke-width="0.65" stroke-linejoin="round" stroke-linecap="round"/>
<path d="M496.69,291.16C496.87,293.31 497.12,300.13 497.76,304.07C498.41,308.02 499.63,311.42 500.56,314.83C501.49,318.24 502.46,321.64 503.36,324.51C504.25,327.38 504.43,329.71 505.94,332.04C507.44,334.37 510.53,336.71 512.39,338.50C514.26,340.29 516.23,341.44 517.13,342.80C518.02,344.16 518.20,345.24 517.77,346.67C517.34,348.11 516.16,349.72 514.55,351.41C512.93,353.09 510.06,355.17 508.09,356.79C506.12,358.40 504.22,359.48 502.71,361.09C501.20,362.71 499.95,364.50 499.05,366.47C498.16,368.44 497.73,370.42 497.33,372.93C496.94,375.44 496.79,380.10 496.69,381.53" fill="rgba(44,140,170,0.52)" stroke="#527f96" stroke-width="0.65" stroke-linejoin="round" stroke-linecap="round"/>
<line x1="496.69" x2="496.69" y1="278.25" y2="383.69" stroke="#5a8aa3" stroke-width="0.9"/>
<rect x="334.40" y="224.20" width="212.00" height="176.80" fill="none" stroke="#a2a2a2" stroke-width="1"/>
<text transform="translate(332.00,226.45) scale(1.08,1)" text-anchor="end" font-size="6.8" fill="#444">2.15</text>
<text transform="translate(332.00,246.09) scale(1.08,1)" text-anchor="end" font-size="6.8" fill="#444">2.1</text>
<text transform="translate(332.00,265.74) scale(1.08,1)" text-anchor="end" font-size="6.8" fill="#444">2.05</text>
<text transform="translate(332.00,285.38) scale(1.08,1)" text-anchor="end" font-size="6.8" fill="#444">2</text>
<text transform="translate(332.00,305.03) scale(1.08,1)" text-anchor="end" font-size="6.8" fill="#444">1.95</text>
<text transform="translate(332.00,324.67) scale(1.08,1)" text-anchor="end" font-size="6.8" fill="#444">1.9</text>
<text transform="translate(332.00,344.32) scale(1.08,1)" text-anchor="end" font-size="6.8" fill="#444">1.85</text>
<text transform="translate(332.00,363.96) scale(1.08,1)" text-anchor="end" font-size="6.8" fill="#444">1.8</text>
<text transform="translate(332.00,383.61) scale(1.08,1)" text-anchor="end" font-size="6.8" fill="#444">1.75</text>
<text transform="translate(332.00,403.25) scale(1.08,1)" text-anchor="end" font-size="6.8" fill="#444">1.7</text>
<text transform="translate(361.41,408.60) scale(1.04,1)" text-anchor="middle" font-size="7.2" fill="#444">PSO</text>
<text transform="translate(406.50,408.60) scale(1.04,1)" text-anchor="middle" font-size="7.2" fill="#444">BAT</text>
<text transform="translate(451.59,408.60) scale(1.04,1)" text-anchor="middle" font-size="7.2" fill="#444">GWO</text>
<text transform="translate(496.69,408.60) scale(1.04,1)" text-anchor="middle" font-size="7.2" fill="#444">OPA</text>
<text transform="translate(313.10,312.60) rotate(-90) scale(1.08,1)" text-anchor="middle" font-size="7" fill="#555">Minimum objectives value (in thousand)</text>
<rect x="503.10" y="383.50" width="6" height="6" fill="#4fc3f4"/>
<rect x="503.10" y="393.70" width="6" height="6" fill="#2a80a3"/>
<text transform="translate(512.00,388.70) scale(1.08,1)" font-size="6.8" fill="#444">Native</text>
<text transform="translate(512.00,398.90) scale(1.05,1)" font-size="6.8" fill="#444">Improved</text>
<text x="425.20" y="436.50" text-anchor="middle" font-size="13" letter-spacing="0.265" fill="#111"><tspan letter-spacing="-0.2">(<tspan font-weight="bold">d</tspan>) </tspan>Solutions for instance 18</text>
</g>
<g id="panel-e">
<line x1="31.20" x2="242.30" y1="473.05" y2="473.05" stroke="#dedede" stroke-width="1"/>
<line x1="31.20" x2="242.30" y1="502.60" y2="502.60" stroke="#dedede" stroke-width="1"/>
<line x1="31.20" x2="242.30" y1="532.15" y2="532.15" stroke="#dedede" stroke-width="1"/>
<line x1="31.20" x2="242.30" y1="561.70" y2="561.70" stroke="#dedede" stroke-width="1"/>
<line x1="31.20" x2="242.30" y1="591.25" y2="591.25" stroke="#dedede" stroke-width="1"/>
<path d="M58.09,443.50V456.21M58.09,602.69V620.80" stroke="#868686" stroke-width="1" fill="none"/>
<path d="M103.00,443.50V460.52M103.00,609.14V620.80" stroke="#868686" stroke-width="1" fill="none"/>
<path d="M147.90,443.50V494.95M147.90,594.08V620.80" stroke="#868686" stroke-width="1" fill="none"/>
<path d="M192.80,443.50V473.43M192.80,598.38V620.80" stroke="#868686" stroke-width="1" fill="none"/>
<path d="M58.09,455.21C57.99,457.72 57.81,465.61 57.45,470.28C57.09,474.94 56.62,479.24 55.94,483.19C55.26,487.13 54.44,490.54 53.36,493.95C52.28,497.35 50.78,500.40 49.49,503.63C48.20,506.86 46.76,509.90 45.61,513.31C44.47,516.72 43.68,520.84 42.60,524.07C41.53,527.30 40.09,529.81 39.16,532.68C38.23,535.55 37.44,538.77 37.01,541.28C36.58,543.79 36.47,545.23 36.58,547.74C36.68,550.25 37.11,553.48 37.65,556.35C38.19,559.22 38.73,562.08 39.80,564.95C40.88,567.82 42.49,570.69 44.11,573.56C45.72,576.43 47.80,579.48 49.49,582.17C51.17,584.86 52.97,587.37 54.22,589.70C55.48,592.03 56.37,593.82 57.02,596.15C57.66,598.49 57.91,602.43 58.09,603.69" fill="rgba(79,204,246,0.55)" stroke="#62aecd" stroke-width="0.65" stroke-linejoin="round" stroke-linecap="round"/>
<path d="M58.09,532.68C58.35,533.75 59.17,537.16 59.60,539.13C60.03,541.10 60.64,542.72 60.68,544.51C60.71,546.31 59.89,548.10 59.82,549.89C59.74,551.68 59.46,553.66 60.25,555.27C61.03,556.88 62.40,558.14 64.55,559.57C66.70,561.01 70.72,562.44 73.16,563.88C75.60,565.31 78.11,567.00 79.18,568.18C80.26,569.36 80.26,569.90 79.61,570.98C78.97,572.05 77.28,573.31 75.31,574.64C73.34,575.96 69.93,577.51 67.78,578.94C65.63,580.37 63.72,581.63 62.40,583.24C61.07,584.86 60.46,586.65 59.82,588.62C59.17,590.60 58.81,592.93 58.52,595.08C58.24,597.23 58.17,600.46 58.09,601.53" fill="rgba(44,140,170,0.52)" stroke="#527f96" stroke-width="0.65" stroke-linejoin="round" stroke-linecap="round"/>
<line x1="58.09" x2="58.09" y1="455.21" y2="603.69" stroke="#5a8aa3" stroke-width="0.9"/>
<path d="M103.00,459.52C102.89,462.03 102.71,469.56 102.35,474.58C101.99,479.60 101.56,484.98 100.84,489.64C100.13,494.30 99.05,498.61 98.05,502.55C97.04,506.50 96.07,509.73 94.82,513.31C93.56,516.90 92.13,520.84 90.51,524.07C88.90,527.30 86.57,529.99 85.14,532.68C83.70,535.37 82.45,537.70 81.91,540.21C81.37,542.72 81.62,544.69 81.91,547.74C82.19,550.79 82.73,554.91 83.63,558.50C84.53,562.08 85.78,565.67 87.29,569.26C88.79,572.84 90.87,576.61 92.67,580.02C94.46,583.42 96.61,586.83 98.05,589.70C99.48,592.57 100.52,594.72 101.27,597.23C102.03,599.74 102.28,602.61 102.56,604.76C102.85,606.91 102.92,609.24 103.00,610.14" fill="rgba(79,204,246,0.55)" stroke="#62aecd" stroke-width="0.65" stroke-linejoin="round" stroke-linecap="round"/>
<path d="M103.00,465.97C103.17,468.12 103.46,474.94 104.07,478.88C104.68,482.83 105.51,486.24 106.65,489.64C107.80,493.05 109.52,496.46 110.96,499.33C112.39,502.19 114.29,504.35 115.26,506.86C116.23,509.37 116.52,511.88 116.77,514.39C117.02,516.90 116.30,519.23 116.77,521.92C117.23,524.61 118.56,527.66 119.56,530.53C120.57,533.39 122.07,536.26 122.79,539.13C123.51,542.00 123.80,544.87 123.87,547.74C123.94,550.61 123.58,553.48 123.22,556.35C122.86,559.22 122.68,561.91 121.72,564.95C120.75,568.00 119.21,571.41 117.41,574.64C115.62,577.86 112.86,581.45 110.96,584.32C109.06,587.19 107.19,589.34 106.01,591.85C104.82,594.36 104.36,596.69 103.86,599.38C103.35,602.07 103.14,606.55 103.00,607.99" fill="rgba(44,140,170,0.52)" stroke="#527f96" stroke-width="0.65" stroke-linejoin="round" stroke-linecap="round"/>
<line x1="103.00" x2="103.00" y1="459.52" y2="610.14" stroke="#5a8aa3" stroke-width="0.9"/>
<path d="M147.90,495.67C147.82,497.89 147.65,505.35 147.47,509.01C147.29,512.67 147.21,515.03 146.82,517.61C146.43,520.20 146.07,522.64 145.10,524.50C144.13,526.37 142.52,527.51 141.01,528.80C139.50,530.10 137.96,530.88 136.06,532.25C134.16,533.61 131.15,535.30 129.61,536.98C128.06,538.67 127.13,540.57 126.81,542.36C126.49,544.15 127.02,546.13 127.67,547.74C128.32,549.35 129.68,550.75 130.68,552.04C131.69,553.33 133.48,554.23 133.69,555.49C133.91,556.74 132.76,558.28 131.97,559.57C131.18,560.87 129.64,561.80 128.96,563.23C128.28,564.67 127.74,566.35 127.88,568.18C128.03,570.01 128.57,572.38 129.82,574.21C131.08,576.04 133.41,577.43 135.42,579.16C137.42,580.88 140.01,582.88 141.87,584.53C143.74,586.18 145.60,587.48 146.61,589.05C147.61,590.63 147.68,593.18 147.90,594.00" fill="rgba(79,204,246,0.55)" stroke="#62aecd" stroke-width="0.65" stroke-linejoin="round" stroke-linecap="round"/>
<path d="M147.90,493.95C148.00,496.46 148.11,504.35 148.54,509.01C148.97,513.67 149.33,518.33 150.48,521.92C151.63,525.50 153.71,528.02 155.43,530.53C157.15,533.04 159.37,535.01 160.81,536.98C162.24,538.95 163.68,540.57 164.03,542.36C164.39,544.15 163.50,545.95 162.96,547.74C162.42,549.53 160.99,551.33 160.81,553.12C160.63,554.91 160.99,556.71 161.88,558.50C162.78,560.29 165.11,562.26 166.19,563.88C167.26,565.49 168.45,566.57 168.34,568.18C168.23,569.80 166.97,571.77 165.54,573.56C164.11,575.35 161.77,577.15 159.73,578.94C157.69,580.73 154.96,582.71 153.28,584.32C151.59,585.93 150.51,586.83 149.62,588.62C148.72,590.42 148.18,594.00 147.90,595.08" fill="rgba(44,140,170,0.52)" stroke="#527f96" stroke-width="0.65" stroke-linejoin="round" stroke-linecap="round"/>
<line x1="147.90" x2="147.90" y1="493.95" y2="595.08" stroke="#5a8aa3" stroke-width="0.9"/>
<path d="M192.80,472.43C192.69,476.01 192.51,487.49 192.15,493.95C191.79,500.40 191.36,506.50 190.65,511.16C189.93,515.82 189.21,518.69 187.85,521.92C186.49,525.15 184.62,528.02 182.47,530.53C180.32,533.04 176.73,535.01 174.94,536.98C173.14,538.95 172.07,540.57 171.71,542.36C171.35,544.15 171.89,545.77 172.79,547.74C173.68,549.71 175.83,552.04 177.09,554.19C178.34,556.35 179.42,558.14 180.32,560.65C181.21,563.16 181.57,566.39 182.47,569.26C183.37,572.13 184.55,575.00 185.70,577.86C186.84,580.73 188.35,583.96 189.35,586.47C190.36,588.98 191.15,590.77 191.72,592.93C192.29,595.08 192.62,598.31 192.80,599.38" fill="rgba(79,204,246,0.55)" stroke="#62aecd" stroke-width="0.65" stroke-linejoin="round" stroke-linecap="round"/>
<path d="M192.80,524.07C193.05,525.86 193.69,531.60 194.30,534.83C194.91,538.06 195.74,540.75 196.46,543.44C197.17,546.13 197.35,548.64 198.61,550.97C199.86,553.30 201.83,555.45 203.99,557.42C206.14,559.39 209.80,561.19 211.52,562.80C213.24,564.42 214.14,565.67 214.31,567.11C214.49,568.54 213.78,569.80 212.59,571.41C211.41,573.02 209.19,575.17 207.21,576.79C205.24,578.40 202.66,579.48 200.76,581.09C198.86,582.71 196.99,584.50 195.81,586.47C194.63,588.44 194.16,590.77 193.66,592.93C193.16,595.08 192.94,598.31 192.80,599.38" fill="rgba(44,140,170,0.52)" stroke="#527f96" stroke-width="0.65" stroke-linejoin="round" stroke-linecap="round"/>
<line x1="192.80" x2="192.80" y1="472.43" y2="599.38" stroke="#5a8aa3" stroke-width="0.9"/>
<rect x="31.20" y="443.50" width="211.10" height="177.30" fill="none" stroke="#a2a2a2" stroke-width="1"/>
<text transform="translate(28.80,445.75) scale(1.08,1)" text-anchor="end" font-size="6.8" fill="#444">2.15</text>
<text transform="translate(28.80,475.30) scale(1.08,1)" text-anchor="end" font-size="6.8" fill="#444">2.1</text>
<text transform="translate(28.80,504.85) scale(1.08,1)" text-anchor="end" font-size="6.8" fill="#444">2.05</text>
<text transform="translate(28.80,534.40) scale(1.08,1)" text-anchor="end" font-size="6.8" fill="#444">2</text>
<text transform="translate(28.80,563.95) scale(1.08,1)" text-anchor="end" font-size="6.8" fill="#444">1.95</text>
<text transform="translate(28.80,593.50) scale(1.08,1)" text-anchor="end" font-size="6.8" fill="#444">1.9</text>
<text transform="translate(28.80,623.05) scale(1.08,1)" text-anchor="end" font-size="6.8" fill="#444">1.85</text>
<text transform="translate(58.09,628.40) scale(1.04,1)" text-anchor="middle" font-size="7.2" fill="#444">PSO</text>
<text transform="translate(103.00,628.40) scale(1.04,1)" text-anchor="middle" font-size="7.2" fill="#444">BAT</text>
<text transform="translate(147.90,628.40) scale(1.04,1)" text-anchor="middle" font-size="7.2" fill="#444">GWO</text>
<text transform="translate(192.80,628.40) scale(1.04,1)" text-anchor="middle" font-size="7.2" fill="#444">OPA</text>
<text transform="translate(9.70,532.15) rotate(-90) scale(1.08,1)" text-anchor="middle" font-size="7" fill="#555">Minimum objectives value (in thousand)</text>
<rect x="199.00" y="603.30" width="6" height="6" fill="#4fc3f4"/>
<rect x="199.00" y="613.50" width="6" height="6" fill="#2a80a3"/>
<text transform="translate(207.90,608.50) scale(1.08,1)" font-size="6.8" fill="#444">Native</text>
<text transform="translate(207.90,618.70) scale(1.05,1)" font-size="6.8" fill="#444">Improved</text>
<text x="122.60" y="655.60" text-anchor="middle" font-size="13" letter-spacing="0.265" fill="#111"><tspan letter-spacing="-0.2">(<tspan font-weight="bold">e</tspan>) </tspan>Solutions for instance 19</text>
</g>
<g id="panel-f">
<line x1="334.40" x2="546.40" y1="465.66" y2="465.66" stroke="#dedede" stroke-width="1"/>
<line x1="334.40" x2="546.40" y1="487.83" y2="487.83" stroke="#dedede" stroke-width="1"/>
<line x1="334.40" x2="546.40" y1="509.99" y2="509.99" stroke="#dedede" stroke-width="1"/>
<line x1="334.40" x2="546.40" y1="532.15" y2="532.15" stroke="#dedede" stroke-width="1"/>
<line x1="334.40" x2="546.40" y1="554.31" y2="554.31" stroke="#dedede" stroke-width="1"/>
<line x1="334.40" x2="546.40" y1="576.48" y2="576.48" stroke="#dedede" stroke-width="1"/>
<line x1="334.40" x2="546.40" y1="598.64" y2="598.64" stroke="#dedede" stroke-width="1"/>
<path d="M361.41,443.50V487.41M361.41,596.23V620.80" stroke="#868686" stroke-width="1" fill="none"/>
<path d="M406.50,443.50V449.76M406.50,594.08V620.80" stroke="#868686" stroke-width="1" fill="none"/>
<path d="M451.59,443.50V448.68M451.59,587.62V620.80" stroke="#868686" stroke-width="1" fill="none"/>
<path d="M496.69,443.50V485.26M496.69,594.51V620.80" stroke="#868686" stroke-width="1" fill="none"/>
<path d="M361.41,486.41C361.16,487.67 360.87,491.44 359.90,493.95C358.93,496.46 357.39,498.97 355.60,501.48C353.81,503.99 351.12,506.68 349.14,509.01C347.17,511.34 345.20,513.31 343.76,515.46C342.33,517.61 340.90,519.77 340.54,521.92C340.18,524.07 340.72,526.04 341.61,528.37C342.51,530.70 344.37,533.22 345.92,535.90C347.46,538.59 349.32,541.64 350.87,544.51C352.41,547.38 353.95,550.25 355.17,553.12C356.39,555.99 357.32,558.86 358.18,561.73C359.04,564.59 359.83,567.28 360.33,570.33C360.83,573.38 361.01,576.25 361.19,580.02C361.37,583.78 361.37,590.77 361.41,592.93" fill="rgba(79,204,246,0.55)" stroke="#62aecd" stroke-width="0.65" stroke-linejoin="round" stroke-linecap="round"/>
<path d="M361.41,500.40C361.70,501.84 362.31,505.96 363.13,509.01C363.96,512.06 365.28,515.46 366.36,518.69C367.43,521.92 367.97,525.33 369.59,528.37C371.20,531.42 374.07,534.11 376.04,536.98C378.01,539.85 380.16,542.72 381.42,545.59C382.68,548.46 383.75,551.68 383.57,554.19C383.39,556.71 382.14,558.68 380.34,560.65C378.55,562.62 375.14,564.42 372.81,566.03C370.48,567.64 367.97,568.72 366.36,570.33C364.74,571.95 363.85,573.38 363.13,575.71C362.41,578.04 362.34,580.73 362.05,584.32C361.77,587.91 361.52,595.08 361.41,597.23" fill="rgba(44,140,170,0.52)" stroke="#527f96" stroke-width="0.65" stroke-linejoin="round" stroke-linecap="round"/>
<line x1="361.41" x2="361.41" y1="486.41" y2="597.23" stroke="#5a8aa3" stroke-width="0.9"/>
<path d="M406.50,448.76C406.43,451.27 406.39,459.16 406.07,463.82C405.75,468.48 405.39,472.79 404.56,476.73C403.74,480.68 402.66,484.08 401.12,487.49C399.58,490.90 397.25,494.12 395.31,497.17C393.38,500.22 391.04,502.91 389.50,505.78C387.96,508.65 386.71,511.88 386.06,514.39C385.41,516.90 385.34,518.15 385.63,520.84C385.92,523.53 386.88,527.30 387.78,530.53C388.68,533.75 389.93,536.98 391.01,540.21C392.08,543.44 393.16,546.66 394.24,549.89C395.31,553.12 396.39,556.35 397.46,559.57C398.54,562.80 399.62,566.21 400.69,569.26C401.77,572.31 403.09,575.00 403.92,577.86C404.74,580.73 405.21,583.60 405.64,586.47C406.07,589.34 406.36,593.64 406.50,595.08" fill="rgba(79,204,246,0.55)" stroke="#62aecd" stroke-width="0.65" stroke-linejoin="round" stroke-linecap="round"/>
<path d="M406.50,465.97C406.68,468.12 406.93,474.94 407.58,478.88C408.22,482.83 409.01,486.06 410.37,489.64C411.74,493.23 413.78,496.99 415.75,500.40C417.73,503.81 420.34,506.86 422.21,510.08C424.07,513.31 425.97,517.08 426.94,519.77C427.91,522.46 428.27,523.71 428.02,526.22C427.77,528.73 426.58,531.96 425.44,534.83C424.29,537.70 422.57,540.57 421.13,543.44C419.70,546.31 418.26,548.99 416.83,552.04C415.40,555.09 413.78,558.50 412.53,561.73C411.27,564.95 410.12,568.36 409.30,571.41C408.47,574.46 408.04,576.79 407.58,580.02C407.11,583.24 406.68,588.98 406.50,590.77" fill="rgba(44,140,170,0.52)" stroke="#527f96" stroke-width="0.65" stroke-linejoin="round" stroke-linecap="round"/>
<line x1="406.50" x2="406.50" y1="448.76" y2="595.08" stroke="#5a8aa3" stroke-width="0.9"/>
<path d="M451.59,447.68C451.56,451.45 451.52,463.28 451.38,470.28C451.23,477.27 451.13,484.62 450.73,489.64C450.34,494.66 450.02,497.17 449.01,500.40C448.01,503.63 446.50,506.32 444.71,509.01C442.91,511.70 439.87,514.21 438.25,516.54C436.64,518.87 435.49,521.02 435.03,522.99C434.56,524.97 435.10,526.58 435.46,528.37C435.81,530.17 437.43,531.78 437.18,533.75C436.93,535.73 434.95,538.06 433.95,540.21C432.95,542.36 431.69,544.69 431.15,546.66C430.61,548.64 430.43,550.07 430.72,552.04C431.01,554.02 431.62,556.35 432.87,558.50C434.13,560.65 436.28,562.98 438.25,564.95C440.23,566.93 442.81,568.54 444.71,570.33C446.61,572.13 448.58,573.74 449.66,575.71C450.73,577.68 450.84,580.02 451.16,582.17C451.49,584.32 451.52,587.55 451.59,588.62" fill="rgba(79,204,246,0.55)" stroke="#62aecd" stroke-width="0.65" stroke-linejoin="round" stroke-linecap="round"/>
<path d="M451.59,447.68C451.67,451.45 451.81,463.28 452.02,470.28C452.24,477.27 452.13,484.80 452.88,489.64C453.64,494.48 454.86,496.46 456.54,499.33C458.23,502.19 460.85,504.17 463.00,506.86C465.15,509.55 467.84,512.77 469.45,515.46C471.07,518.15 472.25,520.66 472.68,522.99C473.11,525.33 472.75,527.12 472.04,529.45C471.32,531.78 469.70,534.29 468.38,536.98C467.05,539.67 465.51,542.72 464.07,545.59C462.64,548.46 461.10,551.33 459.77,554.19C458.44,557.06 457.19,559.93 456.11,562.80C455.04,565.67 454.00,568.54 453.32,571.41C452.63,574.28 452.31,577.15 452.02,580.02C451.74,582.88 451.67,587.19 451.59,588.62" fill="rgba(44,140,170,0.52)" stroke="#527f96" stroke-width="0.65" stroke-linejoin="round" stroke-linecap="round"/>
<line x1="451.59" x2="451.59" y1="447.68" y2="588.62" stroke="#5a8aa3" stroke-width="0.9"/>
<path d="M496.69,484.26C496.51,485.88 496.40,490.90 495.61,493.95C494.82,496.99 493.82,499.68 491.95,502.55C490.09,505.42 486.75,508.65 484.42,511.16C482.09,513.67 479.47,515.64 477.97,517.61C476.46,519.59 475.56,521.20 475.38,522.99C475.20,524.79 476.39,526.40 476.89,528.37C477.39,530.35 477.68,532.68 478.40,534.83C479.11,536.98 479.83,538.95 481.19,541.28C482.56,543.62 484.78,546.31 486.57,548.82C488.37,551.33 490.52,553.66 491.95,556.35C493.39,559.04 494.46,561.73 495.18,564.95C495.90,568.18 496.00,571.77 496.26,575.71C496.51,579.66 496.61,586.47 496.69,588.62" fill="rgba(79,204,246,0.55)" stroke="#62aecd" stroke-width="0.65" stroke-linejoin="round" stroke-linecap="round"/>
<path d="M496.69,502.55C496.97,504.35 497.40,510.08 498.41,513.31C499.41,516.54 500.92,519.05 502.71,521.92C504.50,524.79 507.19,527.66 509.17,530.53C511.14,533.39 513.11,536.44 514.55,539.13C515.98,541.82 517.16,544.51 517.77,546.66C518.38,548.82 518.56,550.07 518.20,552.04C517.84,554.02 517.13,556.35 515.62,558.50C514.12,560.65 511.32,563.16 509.17,564.95C507.01,566.75 504.25,567.82 502.71,569.26C501.17,570.69 500.52,572.31 499.91,573.56C499.30,574.82 499.32,575.43 499.05,576.79C498.79,578.15 498.57,579.98 498.32,581.74C498.07,583.49 497.78,585.65 497.55,587.33C497.31,589.02 497.04,590.49 496.90,591.85C496.76,593.21 496.72,594.90 496.69,595.51" fill="rgba(44,140,170,0.52)" stroke="#527f96" stroke-width="0.65" stroke-linejoin="round" stroke-linecap="round"/>
<line x1="496.69" x2="496.69" y1="484.26" y2="595.51" stroke="#5a8aa3" stroke-width="0.9"/>
<rect x="334.40" y="443.50" width="212.00" height="177.30" fill="none" stroke="#a2a2a2" stroke-width="1"/>
<text transform="translate(332.00,445.75) scale(1.08,1)" text-anchor="end" font-size="6.8" fill="#444">2.6</text>
<text transform="translate(332.00,467.91) scale(1.08,1)" text-anchor="end" font-size="6.8" fill="#444">2.55</text>
<text transform="translate(332.00,490.08) scale(1.08,1)" text-anchor="end" font-size="6.8" fill="#444">2.5</text>
<text transform="translate(332.00,512.24) scale(1.08,1)" text-anchor="end" font-size="6.8" fill="#444">2.45</text>
<text transform="translate(332.00,534.40) scale(1.08,1)" text-anchor="end" font-size="6.8" fill="#444">2.4</text>
<text transform="translate(332.00,556.56) scale(1.08,1)" text-anchor="end" font-size="6.8" fill="#444">2.35</text>
<text transform="translate(332.00,578.73) scale(1.08,1)" text-anchor="end" font-size="6.8" fill="#444">2.3</text>
<text transform="translate(332.00,600.89) scale(1.08,1)" text-anchor="end" font-size="6.8" fill="#444">2.25</text>
<text transform="translate(332.00,623.05) scale(1.08,1)" text-anchor="end" font-size="6.8" fill="#444">2.2</text>
<text transform="translate(361.41,628.40) scale(1.04,1)" text-anchor="middle" font-size="7.2" fill="#444">PSO</text>
<text transform="translate(406.50,628.40) scale(1.04,1)" text-anchor="middle" font-size="7.2" fill="#444">BAT</text>
<text transform="translate(451.59,628.40) scale(1.04,1)" text-anchor="middle" font-size="7.2" fill="#444">GWO</text>
<text transform="translate(496.69,628.40) scale(1.04,1)" text-anchor="middle" font-size="7.2" fill="#444">OPA</text>
<text transform="translate(313.10,532.15) rotate(-90) scale(1.08,1)" text-anchor="middle" font-size="7" fill="#555">Minimum objectives value (in thousand)</text>
<rect x="503.10" y="603.30" width="6" height="6" fill="#4fc3f4"/>
<rect x="503.10" y="613.50" width="6" height="6" fill="#2a80a3"/>
<text transform="translate(512.00,608.50) scale(1.08,1)" font-size="6.8" fill="#444">Native</text>
<text transform="translate(512.00,618.70) scale(1.05,1)" font-size="6.8" fill="#444">Improved</text>
<text x="425.20" y="655.60" text-anchor="middle" font-size="13" letter-spacing="0.265" fill="#111"><tspan letter-spacing="-0.2">(<tspan font-weight="bold">f</tspan>) </tspan>Solutions for instance 20</text>
</g>
<g id="panel-g">
<line x1="28.10" x2="242.30" y1="685.50" y2="685.50" stroke="#dedede" stroke-width="1"/>
<line x1="28.10" x2="242.30" y1="707.90" y2="707.90" stroke="#dedede" stroke-width="1"/>
<line x1="28.10" x2="242.30" y1="730.30" y2="730.30" stroke="#dedede" stroke-width="1"/>
<line x1="28.10" x2="242.30" y1="752.70" y2="752.70" stroke="#dedede" stroke-width="1"/>
<line x1="28.10" x2="242.30" y1="775.10" y2="775.10" stroke="#dedede" stroke-width="1"/>
<line x1="28.10" x2="242.30" y1="797.50" y2="797.50" stroke="#dedede" stroke-width="1"/>
<line x1="28.10" x2="242.30" y1="819.90" y2="819.90" stroke="#dedede" stroke-width="1"/>
<path d="M55.39,663.10V717.10M55.39,819.46V842.30" stroke="#868686" stroke-width="1" fill="none"/>
<path d="M100.95,663.10V682.24M100.95,820.53V842.30" stroke="#868686" stroke-width="1" fill="none"/>
<path d="M146.51,663.10V697.73M146.51,829.14V842.30" stroke="#868686" stroke-width="1" fill="none"/>
<path d="M192.07,663.10V730.01M192.07,818.38V842.30" stroke="#868686" stroke-width="1" fill="none"/>
<path d="M55.39,716.10C55.32,718.25 55.28,725.24 54.96,729.01C54.64,732.77 54.53,736.00 53.45,738.69C52.38,741.38 50.76,743.17 48.50,745.15C46.24,747.12 42.23,748.73 39.90,750.53C37.57,752.32 35.49,754.47 34.52,755.90C33.55,757.34 33.73,757.88 34.09,759.13C34.45,760.39 35.16,762.00 36.67,763.44C38.18,764.87 40.97,766.13 43.12,767.74C45.28,769.35 47.97,771.15 49.58,773.12C51.19,775.09 52.02,777.24 52.81,779.57C53.60,781.91 53.88,784.06 54.31,787.11C54.74,790.15 55.21,796.07 55.39,797.86" fill="rgba(79,204,246,0.55)" stroke="#62aecd" stroke-width="0.65" stroke-linejoin="round" stroke-linecap="round"/>
<path d="M55.39,765.59C55.68,766.66 56.29,769.89 57.11,772.04C57.94,774.19 58.90,776.53 60.34,778.50C61.77,780.47 63.57,782.08 65.72,783.88C67.87,785.67 71.35,787.64 73.25,789.26C75.15,790.87 76.69,791.95 77.12,793.56C77.55,795.17 76.83,797.15 75.83,798.94C74.83,800.73 73.14,802.53 71.10,804.32C69.05,806.11 65.72,808.08 63.57,809.70C61.41,811.31 59.44,812.75 58.19,814.00C56.93,815.26 56.50,816.15 56.03,817.23C55.57,818.31 55.50,819.92 55.39,820.46" fill="rgba(44,140,170,0.51)" stroke="#527f96" stroke-width="0.65" stroke-linejoin="round" stroke-linecap="round"/>
<line x1="55.39" x2="55.39" y1="716.10" y2="820.46" stroke="#5a8aa3" stroke-width="0.9"/>
<path d="M100.95,681.24C100.84,682.21 100.63,685.29 100.30,687.05C99.98,688.81 99.44,690.10 99.01,691.78C98.58,693.47 98.30,695.33 97.72,697.16C97.15,698.99 96.39,701.00 95.57,702.76C94.75,704.51 94.06,705.91 92.77,707.71C91.48,709.50 89.29,711.61 87.82,713.52C86.35,715.42 85.03,717.28 83.95,719.11C82.87,720.94 82.05,722.66 81.37,724.49C80.69,726.32 80.22,728.08 79.86,730.08C79.50,732.09 79.22,733.85 79.22,736.54C79.22,739.23 79.29,742.99 79.86,746.22C80.44,749.45 81.48,752.68 82.66,755.90C83.84,759.13 85.35,762.18 86.96,765.59C88.58,768.99 90.73,773.12 92.34,776.35C93.96,779.57 95.50,782.08 96.65,784.95C97.79,787.82 98.58,790.33 99.23,793.56C99.87,796.79 100.23,800.73 100.52,804.32C100.81,807.91 100.88,813.29 100.95,815.08" fill="rgba(79,204,246,0.88)" stroke="#4aa6cc" stroke-width="0.65" stroke-linejoin="round" stroke-linecap="round"/>
<path d="M100.95,701.68C101.19,702.68 101.94,705.73 102.37,707.71C102.80,709.68 103.16,711.61 103.53,713.52C103.90,715.42 104.28,717.28 104.61,719.11C104.93,720.94 105.25,722.66 105.47,724.49C105.68,726.32 105.65,728.25 105.90,730.08C106.15,731.91 106.19,733.13 106.97,735.46C107.76,737.79 108.95,741.20 110.63,744.07C112.32,746.94 115.22,749.99 117.09,752.68C118.95,755.37 120.92,758.06 121.82,760.21C122.72,762.36 122.72,763.62 122.47,765.59C122.22,767.56 121.57,769.89 120.32,772.04C119.06,774.19 116.73,776.35 114.94,778.50C113.14,780.65 111.10,782.62 109.56,784.95C108.01,787.28 106.76,789.62 105.68,792.48C104.61,795.35 103.78,798.76 103.10,802.17C102.42,805.57 101.95,809.70 101.59,812.93C101.24,816.15 101.06,820.10 100.95,821.53" fill="rgba(44,130,163,0.76)" stroke="#3a7a96" stroke-width="0.65" stroke-linejoin="round" stroke-linecap="round"/>
<line x1="100.95" x2="100.95" y1="681.24" y2="821.53" stroke="#5a8aa3" stroke-width="0.9"/>
<path d="M146.51,729.01C146.22,730.26 145.97,734.03 144.79,736.54C143.60,739.05 141.56,741.38 139.41,744.07C137.26,746.76 134.10,749.99 131.88,752.68C129.65,755.37 127.14,758.42 126.07,760.21C124.99,762.00 124.99,762.00 125.42,763.44C125.85,764.87 127.04,766.66 128.65,768.82C130.26,770.97 133.31,773.84 135.11,776.35C136.90,778.86 138.05,781.37 139.41,783.88C140.77,786.39 142.28,788.72 143.28,791.41C144.29,794.10 144.90,797.15 145.43,800.02C145.97,802.88 146.33,807.19 146.51,808.62" fill="rgba(79,204,246,0.55)" stroke="#62aecd" stroke-width="0.65" stroke-linejoin="round" stroke-linecap="round"/>
<path d="M146.51,696.73C146.69,698.88 146.98,705.70 147.59,709.64C148.20,713.59 149.56,716.81 150.17,720.40C150.78,723.99 150.71,727.93 151.24,731.16C151.78,734.39 152.14,736.90 153.40,739.77C154.65,742.64 156.80,745.50 158.77,748.37C160.75,751.24 163.72,754.47 165.23,756.98C166.74,759.49 167.63,761.28 167.81,763.44C167.99,765.59 167.45,767.56 166.31,769.89C165.16,772.22 162.90,774.91 160.93,777.42C158.95,779.93 156.26,782.26 154.47,784.95C152.68,787.64 151.24,790.33 150.17,793.56C149.09,796.79 148.55,800.37 148.02,804.32C147.48,808.26 147.19,812.93 146.94,817.23C146.69,821.53 146.58,827.99 146.51,830.14" fill="rgba(44,140,170,0.51)" stroke="#527f96" stroke-width="0.65" stroke-linejoin="round" stroke-linecap="round"/>
<line x1="146.51" x2="146.51" y1="696.73" y2="830.14" stroke="#5a8aa3" stroke-width="0.9"/>
<path d="M192.07,729.01C191.89,730.44 191.89,734.75 190.99,737.61C190.10,740.48 188.84,743.71 186.69,746.22C184.54,748.73 180.59,750.70 178.08,752.68C175.57,754.65 172.88,756.26 171.63,758.06C170.37,759.85 170.37,761.46 170.55,763.44C170.73,765.41 171.99,767.74 172.70,769.89C173.42,772.04 173.60,774.19 174.86,776.35C176.11,778.50 178.26,780.47 180.24,782.80C182.21,785.13 184.97,787.82 186.69,790.33C188.41,792.84 189.74,794.82 190.56,797.86C191.39,800.91 191.39,805.04 191.64,808.62C191.89,812.21 192.00,817.59 192.07,819.38" fill="rgba(79,204,246,0.55)" stroke="#62aecd" stroke-width="0.65" stroke-linejoin="round" stroke-linecap="round"/>
<path d="M192.07,729.01C192.25,730.80 192.07,736.54 193.15,739.77C194.22,742.99 196.19,745.68 198.53,748.37C200.86,751.06 204.80,753.57 207.13,755.90C209.46,758.24 211.44,760.57 212.51,762.36C213.59,764.15 213.77,764.87 213.59,766.66C213.41,768.46 212.69,771.15 211.44,773.12C210.18,775.09 208.03,776.71 206.06,778.50C204.08,780.29 201.39,781.91 199.60,783.88C197.81,785.85 196.37,788.00 195.30,790.33C194.22,792.66 193.65,794.82 193.15,797.86C192.64,800.91 192.46,805.04 192.29,808.62C192.11,812.21 192.11,817.59 192.07,819.38" fill="rgba(44,140,170,0.51)" stroke="#527f96" stroke-width="0.65" stroke-linejoin="round" stroke-linecap="round"/>
<line x1="192.07" x2="192.07" y1="729.01" y2="819.38" stroke="#5a8aa3" stroke-width="0.9"/>
<rect x="28.10" y="663.10" width="214.20" height="179.20" fill="none" stroke="#a2a2a2" stroke-width="1"/>
<text transform="translate(25.70,665.35) scale(1.08,1)" text-anchor="end" font-size="6.8" fill="#444">2</text>
<text transform="translate(25.70,687.75) scale(1.08,1)" text-anchor="end" font-size="6.8" fill="#444">1.8</text>
<text transform="translate(25.70,710.15) scale(1.08,1)" text-anchor="end" font-size="6.8" fill="#444">1.6</text>
<text transform="translate(25.70,732.55) scale(1.08,1)" text-anchor="end" font-size="6.8" fill="#444">1.4</text>
<text transform="translate(25.70,754.95) scale(1.08,1)" text-anchor="end" font-size="6.8" fill="#444">1.2</text>
<text transform="translate(25.70,777.35) scale(1.08,1)" text-anchor="end" font-size="6.8" fill="#444">1</text>
<text transform="translate(25.70,799.75) scale(1.08,1)" text-anchor="end" font-size="6.8" fill="#444">0.8</text>
<text transform="translate(25.70,822.15) scale(1.08,1)" text-anchor="end" font-size="6.8" fill="#444">0.6</text>
<text transform="translate(25.70,844.55) scale(1.08,1)" text-anchor="end" font-size="6.8" fill="#444">0.4</text>
<text transform="translate(55.39,849.90) scale(1.04,1)" text-anchor="middle" font-size="7.2" fill="#444">PSO</text>
<text transform="translate(100.95,849.90) scale(1.04,1)" text-anchor="middle" font-size="7.2" fill="#444">BAT</text>
<text transform="translate(146.51,849.90) scale(1.04,1)" text-anchor="middle" font-size="7.2" fill="#444">GWO</text>
<text transform="translate(192.07,849.90) scale(1.04,1)" text-anchor="middle" font-size="7.2" fill="#444">OPA</text>
<text transform="translate(9.70,752.70) rotate(-90) scale(1.08,1)" text-anchor="middle" font-size="7" fill="#555">Minimum objectives value (in thousand)</text>
<rect x="199.00" y="824.80" width="6" height="6" fill="#4fc3f4"/>
<rect x="199.00" y="835.00" width="6" height="6" fill="#2a80a3"/>
<text transform="translate(207.90,830.00) scale(1.08,1)" font-size="6.8" fill="#444">Native</text>
<text transform="translate(207.90,840.20) scale(1.05,1)" font-size="6.8" fill="#444">Improved</text>
<text x="122.30" y="877.10" text-anchor="middle" font-size="13" letter-spacing="0.265" fill="#111"><tspan letter-spacing="-0.2">(<tspan font-weight="bold">g</tspan>) </tspan>Solutions for instance 21</text>
</g>
<g id="panel-h">
<line x1="335.40" x2="546.70" y1="687.54" y2="687.54" stroke="#dedede" stroke-width="1"/>
<line x1="335.40" x2="546.70" y1="709.77" y2="709.77" stroke="#dedede" stroke-width="1"/>
<line x1="335.40" x2="546.70" y1="732.01" y2="732.01" stroke="#dedede" stroke-width="1"/>
<line x1="335.40" x2="546.70" y1="754.25" y2="754.25" stroke="#dedede" stroke-width="1"/>
<line x1="335.40" x2="546.70" y1="776.49" y2="776.49" stroke="#dedede" stroke-width="1"/>
<line x1="335.40" x2="546.70" y1="798.73" y2="798.73" stroke="#dedede" stroke-width="1"/>
<line x1="335.40" x2="546.70" y1="820.96" y2="820.96" stroke="#dedede" stroke-width="1"/>
<path d="M362.32,665.30V692.20M362.32,839.75V843.20" stroke="#868686" stroke-width="1" fill="none"/>
<path d="M407.26,665.30V682.52M407.26,801.02V843.20" stroke="#868686" stroke-width="1" fill="none"/>
<path d="M452.21,665.30V699.73M452.21,822.53V843.20" stroke="#868686" stroke-width="1" fill="none"/>
<path d="M497.15,665.30V698.66M497.15,818.23V843.20" stroke="#868686" stroke-width="1" fill="none"/>
<path d="M362.32,691.20C362.18,692.28 361.93,695.58 361.46,697.66C360.99,699.74 360.56,701.24 359.52,703.68C358.48,706.12 357.01,709.35 355.22,712.29C353.43,715.23 350.63,718.31 348.76,721.33C346.90,724.34 345.21,727.49 344.03,730.36C342.85,733.23 342.13,736.28 341.66,738.54C341.20,740.80 341.12,741.95 341.23,743.92C341.34,745.89 341.59,748.08 342.31,750.37C343.03,752.67 344.07,754.93 345.54,757.69C347.01,760.45 349.30,763.86 351.13,766.94C352.96,770.03 355.04,772.90 356.51,776.19C357.98,779.49 359.09,783.15 359.95,786.74C360.81,790.32 361.28,793.73 361.67,797.71C362.07,801.69 362.21,808.47 362.32,810.62" fill="rgba(79,204,246,0.55)" stroke="#62aecd" stroke-width="0.65" stroke-linejoin="round" stroke-linecap="round"/>
<path d="M362.32,731.01C362.53,732.80 362.97,738.54 363.61,741.77C364.26,744.99 365.05,747.50 366.19,750.37C367.34,753.24 369.13,756.11 370.50,758.98C371.86,761.85 373.58,764.72 374.37,767.59C375.16,770.46 374.98,773.33 375.23,776.19C375.48,779.06 375.23,782.11 375.88,784.80C376.52,787.49 377.92,790.00 379.10,792.33C380.29,794.66 382.26,796.82 382.98,798.79C383.69,800.76 383.87,802.20 383.41,804.17C382.94,806.14 381.79,808.29 380.18,810.62C378.57,812.95 375.88,815.82 373.72,818.15C371.57,820.49 368.88,822.64 367.27,824.61C365.65,826.58 364.79,828.20 364.04,829.99C363.29,831.78 363.04,833.57 362.75,835.37C362.46,837.16 362.39,839.85 362.32,840.75" fill="rgba(44,140,170,0.52)" stroke="#527f96" stroke-width="0.65" stroke-linejoin="round" stroke-linecap="round"/>
<line x1="362.32" x2="362.32" y1="691.20" y2="840.75" stroke="#5a8aa3" stroke-width="0.9"/>
<path d="M407.26,681.52C407.12,683.31 407.01,688.69 406.40,692.28C405.79,695.86 404.97,699.63 403.61,703.04C402.24,706.44 399.84,709.67 398.23,712.72C396.61,715.77 395.00,718.64 393.92,721.33C392.85,724.01 392.67,726.35 391.77,728.86C390.87,731.37 389.62,733.88 388.54,736.39C387.47,738.90 385.78,741.59 385.32,743.92C384.85,746.25 385.10,748.04 385.75,750.37C386.39,752.70 387.65,755.39 389.19,757.90C390.73,760.42 393.13,762.93 395.00,765.44C396.86,767.95 398.84,770.46 400.38,772.97C401.92,775.48 403.25,777.81 404.25,780.50C405.25,783.19 405.90,786.24 406.40,789.11C406.90,791.97 407.12,796.28 407.26,797.71" fill="rgba(79,204,246,0.55)" stroke="#62aecd" stroke-width="0.65" stroke-linejoin="round" stroke-linecap="round"/>
<path d="M407.26,703.04C407.48,704.83 407.73,710.39 408.55,713.79C409.38,717.20 410.53,720.43 412.21,723.48C413.90,726.53 416.87,729.21 418.67,732.08C420.46,734.95 421.90,737.82 422.97,740.69C424.05,743.56 424.41,746.61 425.12,749.30C425.84,751.99 426.81,754.50 427.27,756.83C427.74,759.16 428.28,760.95 427.92,763.28C427.56,765.62 426.66,768.31 425.12,770.82C423.58,773.33 420.82,776.02 418.67,778.35C416.52,780.68 413.83,782.83 412.21,784.80C410.60,786.77 409.74,788.39 408.98,790.18C408.23,791.97 407.98,793.59 407.69,795.56C407.41,797.53 407.33,800.94 407.26,802.02" fill="rgba(44,140,170,0.52)" stroke="#527f96" stroke-width="0.65" stroke-linejoin="round" stroke-linecap="round"/>
<line x1="407.26" x2="407.26" y1="681.52" y2="802.02" stroke="#5a8aa3" stroke-width="0.9"/>
<path d="M452.21,698.73C452.06,700.52 451.96,706.08 451.35,709.49C450.74,712.90 449.73,716.12 448.55,719.17C447.37,722.22 445.50,724.91 444.25,727.78C442.99,730.65 442.27,733.52 441.02,736.39C439.76,739.26 438.22,742.48 436.71,744.99C435.21,747.50 432.88,749.84 431.98,751.45C431.08,753.06 430.90,753.42 431.33,754.68C431.76,755.93 432.95,757.19 434.56,758.98C436.18,760.77 438.87,763.28 441.02,765.44C443.17,767.59 445.86,769.74 447.47,771.89C449.09,774.04 450.05,774.76 450.70,778.35C451.35,781.93 451.17,788.03 451.35,793.41C451.53,798.79 451.63,805.60 451.78,810.62C451.92,815.64 452.13,821.38 452.21,823.53" fill="rgba(79,204,246,0.55)" stroke="#62aecd" stroke-width="0.65" stroke-linejoin="round" stroke-linecap="round"/>
<path d="M452.21,698.73C452.39,700.52 452.28,706.44 453.28,709.49C454.29,712.54 456.51,714.51 458.23,717.02C459.95,719.53 462.36,722.04 463.61,724.55C464.87,727.06 465.05,729.57 465.76,732.08C466.48,734.59 466.95,737.10 467.91,739.61C468.88,742.13 470.60,744.82 471.57,747.15C472.54,749.48 473.72,751.45 473.72,753.60C473.72,755.75 472.90,758.08 471.57,760.06C470.25,762.03 467.81,763.64 465.76,765.44C463.72,767.23 460.92,769.02 459.31,770.82C457.69,772.61 456.98,774.04 456.08,776.19C455.18,778.35 454.47,780.14 453.93,783.73C453.39,787.31 453.10,793.23 452.85,797.71C452.60,802.20 452.53,806.32 452.42,810.62C452.31,814.93 452.24,821.38 452.21,823.53" fill="rgba(44,140,170,0.52)" stroke="#527f96" stroke-width="0.65" stroke-linejoin="round" stroke-linecap="round"/>
<line x1="452.21" x2="452.21" y1="698.73" y2="823.53" stroke="#5a8aa3" stroke-width="0.9"/>
<path d="M497.15,697.66C497.01,699.63 497.08,705.72 496.29,709.49C495.50,713.26 494.14,716.84 492.42,720.25C490.69,723.66 488.11,727.06 485.96,729.93C483.81,732.80 481.30,734.95 479.51,737.46C477.71,739.97 475.63,742.66 475.20,744.99C474.77,747.33 475.67,749.12 476.92,751.45C478.18,753.78 480.69,756.29 482.73,758.98C484.78,761.67 487.40,764.72 489.19,767.59C490.98,770.46 492.38,773.33 493.49,776.19C494.60,779.06 495.32,781.22 495.86,784.80C496.40,788.39 496.50,793.05 496.72,797.71C496.93,802.37 497.08,810.26 497.15,812.77" fill="rgba(79,204,246,0.55)" stroke="#62aecd" stroke-width="0.65" stroke-linejoin="round" stroke-linecap="round"/>
<path d="M497.15,722.40C497.33,724.55 497.40,731.90 498.23,735.31C499.05,738.72 500.20,740.51 502.10,742.84C504.00,745.17 507.30,747.15 509.63,749.30C511.96,751.45 514.65,753.96 516.09,755.75C517.52,757.55 518.24,758.44 518.24,760.06C518.24,761.67 517.34,763.64 516.09,765.44C514.83,767.23 512.68,769.02 510.71,770.82C508.73,772.61 505.94,774.22 504.25,776.19C502.57,778.17 501.49,780.14 500.59,782.65C499.70,785.16 499.34,787.67 498.87,791.26C498.41,794.84 498.08,799.51 497.80,804.17C497.51,808.83 497.26,816.72 497.15,819.23" fill="rgba(44,140,170,0.52)" stroke="#527f96" stroke-width="0.65" stroke-linejoin="round" stroke-linecap="round"/>
<line x1="497.15" x2="497.15" y1="697.66" y2="819.23" stroke="#5a8aa3" stroke-width="0.9"/>
<rect x="335.40" y="665.30" width="211.30" height="177.90" fill="none" stroke="#a2a2a2" stroke-width="1"/>
<text transform="translate(333.00,667.55) scale(1.08,1)" text-anchor="end" font-size="6.8" fill="#444">2.65</text>
<text transform="translate(333.00,689.79) scale(1.08,1)" text-anchor="end" font-size="6.8" fill="#444">2.6</text>
<text transform="translate(333.00,712.02) scale(1.08,1)" text-anchor="end" font-size="6.8" fill="#444">2.55</text>
<text transform="translate(333.00,734.26) scale(1.08,1)" text-anchor="end" font-size="6.8" fill="#444">2.5</text>
<text transform="translate(333.00,756.50) scale(1.08,1)" text-anchor="end" font-size="6.8" fill="#444">2.45</text>
<text transform="translate(333.00,778.74) scale(1.08,1)" text-anchor="end" font-size="6.8" fill="#444">2.4</text>
<text transform="translate(333.00,800.98) scale(1.08,1)" text-anchor="end" font-size="6.8" fill="#444">2.35</text>
<text transform="translate(333.00,823.21) scale(1.08,1)" text-anchor="end" font-size="6.8" fill="#444">2.3</text>
<text transform="translate(333.00,845.45) scale(1.08,1)" text-anchor="end" font-size="6.8" fill="#444">2.25</text>
<text transform="translate(362.32,850.80) scale(1.04,1)" text-anchor="middle" font-size="7.2" fill="#444">PSO</text>
<text transform="translate(407.26,850.80) scale(1.04,1)" text-anchor="middle" font-size="7.2" fill="#444">BAT</text>
<text transform="translate(452.21,850.80) scale(1.04,1)" text-anchor="middle" font-size="7.2" fill="#444">GWO</text>
<text transform="translate(497.15,850.80) scale(1.04,1)" text-anchor="middle" font-size="7.2" fill="#444">OPA</text>
<text transform="translate(313.80,754.25) rotate(-90) scale(1.08,1)" text-anchor="middle" font-size="7" fill="#555">Minimum objectives value (in thousand)</text>
<rect x="503.40" y="825.70" width="6" height="6" fill="#4fc3f4"/>
<rect x="503.40" y="835.90" width="6" height="6" fill="#2a80a3"/>
<text transform="translate(512.30,830.90) scale(1.08,1)" font-size="6.8" fill="#444">Native</text>
<text transform="translate(512.30,841.10) scale(1.05,1)" font-size="6.8" fill="#444">Improved</text>
<text x="425.50" y="877.10" text-anchor="middle" font-size="13" letter-spacing="0.265" fill="#111"><tspan letter-spacing="-0.2">(<tspan font-weight="bold">h</tspan>) </tspan>Solutions for instance 22</text>
</g>
</svg>
</body></html>
